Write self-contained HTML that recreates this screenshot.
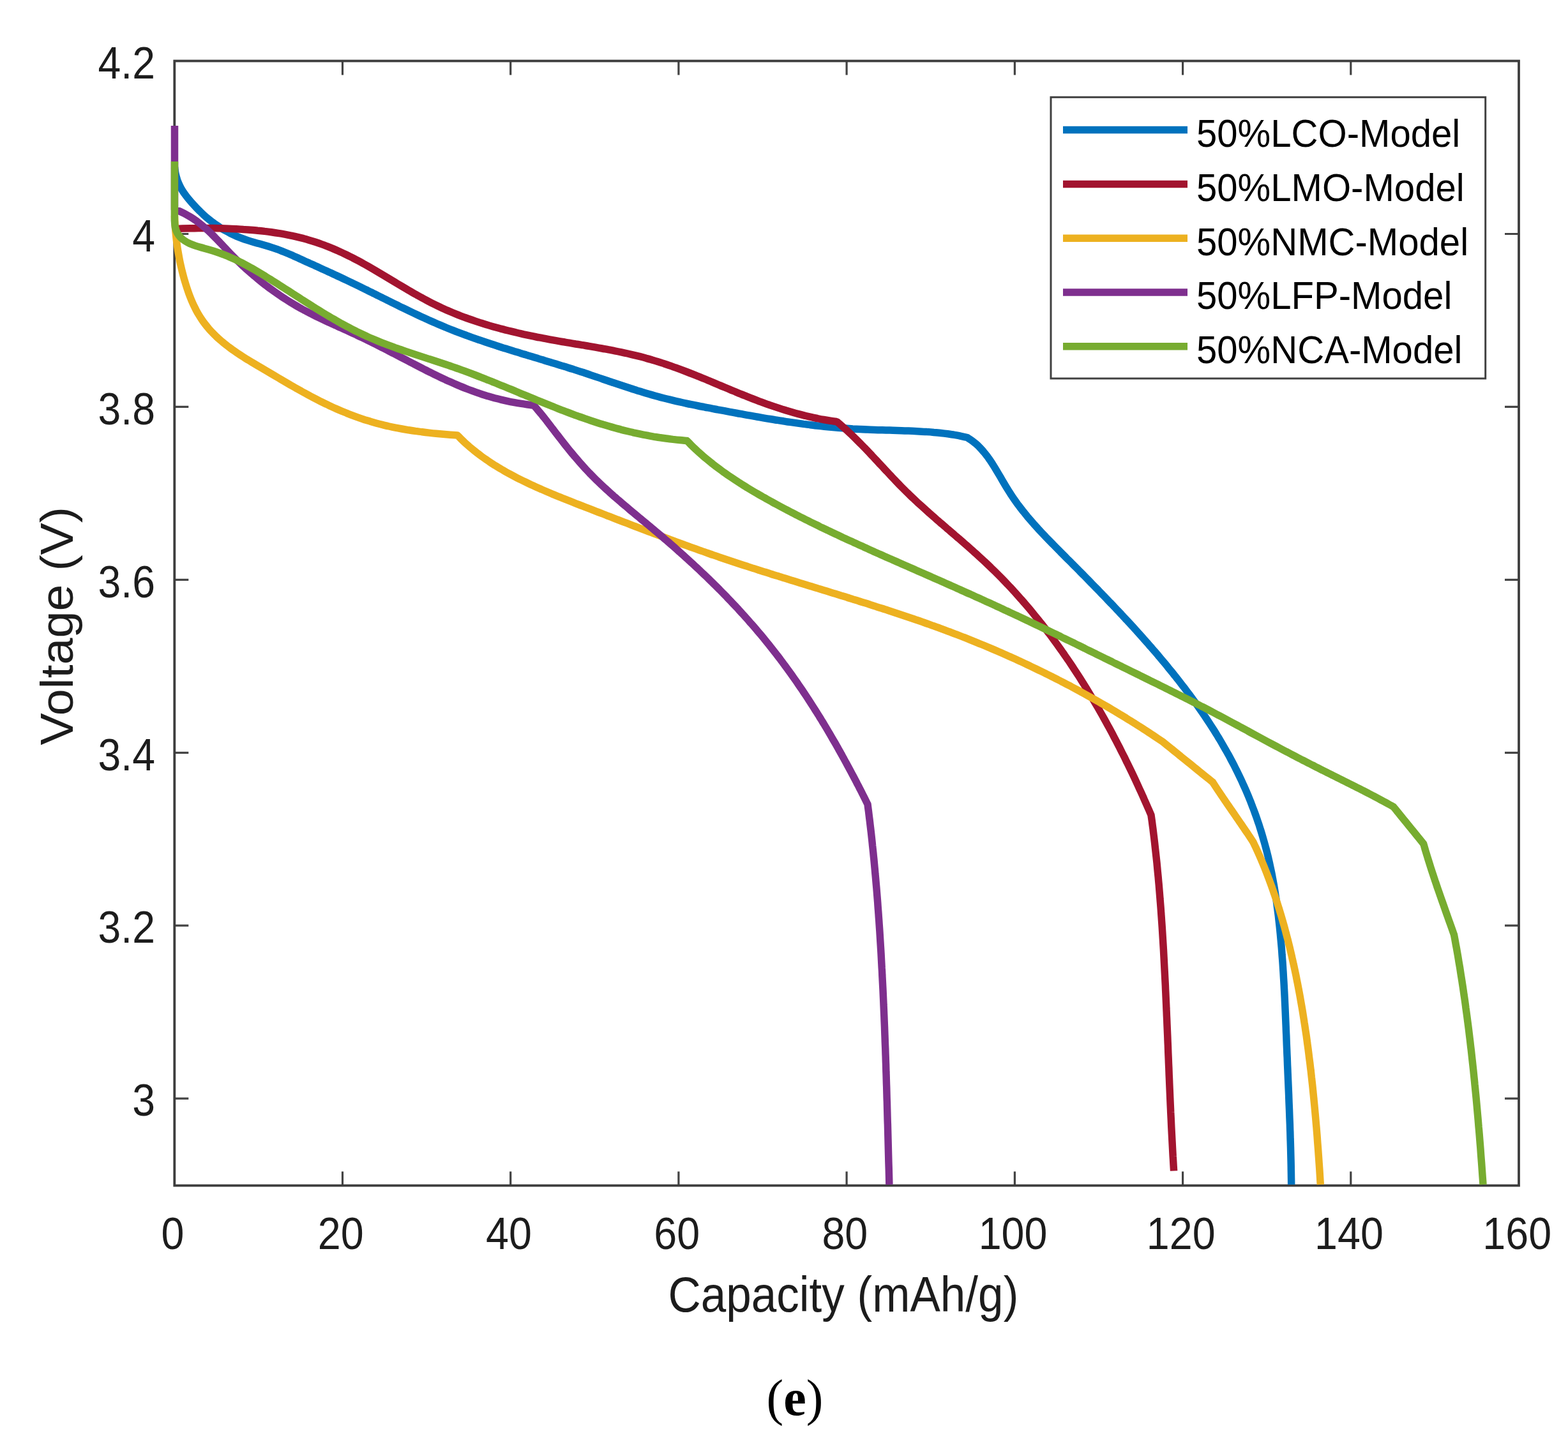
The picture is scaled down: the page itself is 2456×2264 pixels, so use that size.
<!DOCTYPE html>
<html><head><meta charset="utf-8"><style>
html,body{margin:0;padding:0;background:#fff;}
body{width:2456px;height:2264px;overflow:hidden;}
svg{display:block;filter:blur(0.5px);}
text{font-family:"Liberation Sans",Arial,Helvetica,sans-serif;}
</style></head><body>
<svg width="2456" height="2264" viewBox="0 0 2456 2264">
<rect width="2456" height="2264" fill="#fff"/>
<defs><clipPath id="pa"><rect x="273.3" y="95.5" width="2105.7" height="1762.0"/></clipPath></defs>
<g fill="none" stroke="#434343" stroke-width="3.2">
<path d="M536.5 1857.5V1835.5 M536.5 95.5V117.5 M799.7 1857.5V1835.5 M799.7 95.5V117.5 M1062.9 1857.5V1835.5 M1062.9 95.5V117.5 M1326.1 1857.5V1835.5 M1326.1 95.5V117.5 M1589.4 1857.5V1835.5 M1589.4 95.5V117.5 M1852.6 1857.5V1835.5 M1852.6 95.5V117.5 M2115.8 1857.5V1835.5 M2115.8 95.5V117.5 M273.3 1721.2H295.3 M2379.0 1721.2H2357.0 M273.3 1450.2H295.3 M2379.0 1450.2H2357.0 M273.3 1179.3H295.3 M2379.0 1179.3H2357.0 M273.3 908.4H295.3 M2379.0 908.4H2357.0 M273.3 637.4H295.3 M2379.0 637.4H2357.0 M273.3 366.5H295.3 M2379.0 366.5H2357.0 "/>
</g>
<rect x="273.3" y="95.5" width="2105.7" height="1762.0" fill="none" stroke="#3d3d3d" stroke-width="3.8"/>
<g fill="none" stroke-width="11.5" stroke-linejoin="round" stroke-linecap="butt">
<path d="M273.5 262.0 C273.8 263.7 274.4 269.1 275.1 272.5 C275.8 275.8 276.7 278.9 277.7 281.9 C278.8 284.9 280.0 287.7 281.3 290.4 C282.6 293.2 284.0 295.7 285.5 298.2 C287.0 300.7 288.7 303.1 290.4 305.4 C292.1 307.8 293.9 310.0 295.7 312.2 C297.5 314.4 299.4 316.6 301.3 318.7 C303.2 320.8 305.1 322.9 307.1 325.0 C309.0 327.0 311.0 329.0 313.1 331.0 C315.1 333.0 317.2 335.0 319.3 336.9 C321.4 338.8 323.5 340.7 325.7 342.5 C327.9 344.3 330.2 346.1 332.5 347.8 C334.7 349.6 337.1 351.3 339.5 352.9 C341.8 354.5 344.3 356.1 346.7 357.7 C349.2 359.2 351.8 360.7 354.3 362.1 C356.9 363.6 359.6 364.9 362.3 366.3 C365.0 367.6 367.7 368.9 370.5 370.1 C373.4 371.3 376.2 372.4 379.2 373.5 C382.1 374.6 385.1 375.6 388.2 376.6 C391.2 377.6 394.3 378.5 397.4 379.4 C400.5 380.3 403.7 381.2 406.8 382.0 C410.0 382.9 413.1 383.8 416.2 384.7 C419.3 385.6 422.4 386.6 425.4 387.6 C428.5 388.6 431.4 389.6 434.4 390.7 C437.3 391.7 440.2 392.9 443.1 394.0 C446.0 395.2 448.8 396.3 451.7 397.5 C454.5 398.7 457.3 400.0 460.1 401.2 C462.9 402.4 465.6 403.7 468.4 404.9 C471.2 406.2 473.9 407.4 476.7 408.7 C479.5 409.9 482.2 411.2 485.0 412.5 C487.8 413.7 490.5 415.0 493.3 416.2 C496.1 417.5 498.8 418.7 501.6 420.0 C504.4 421.2 507.1 422.5 509.9 423.8 C512.7 425.0 515.4 426.3 518.2 427.5 C520.9 428.8 523.7 430.1 526.4 431.4 C529.2 432.6 531.9 433.9 534.7 435.2 C537.4 436.5 540.1 437.8 542.9 439.1 C545.6 440.4 548.3 441.7 551.0 443.0 C553.7 444.3 556.4 445.6 559.1 446.9 C561.8 448.2 564.5 449.5 567.2 450.9 C569.9 452.2 572.6 453.5 575.3 454.8 C578.0 456.2 580.7 457.5 583.4 458.8 C586.1 460.2 588.8 461.5 591.4 462.9 C594.1 464.2 596.8 465.5 599.5 466.9 C602.2 468.2 604.9 469.5 607.6 470.9 C610.3 472.2 612.9 473.5 615.6 474.9 C618.3 476.2 621.0 477.5 623.7 478.8 C626.4 480.2 629.1 481.5 631.8 482.8 C634.5 484.1 637.2 485.4 640.0 486.7 C642.7 488.0 645.4 489.3 648.1 490.6 C650.9 491.9 653.6 493.2 656.3 494.5 C659.1 495.8 661.8 497.0 664.6 498.3 C667.3 499.6 670.1 500.8 672.9 502.1 C675.7 503.3 678.5 504.5 681.3 505.8 C684.1 507.0 686.9 508.2 689.7 509.4 C692.5 510.6 695.3 511.8 698.2 513.0 C701.0 514.1 703.9 515.3 706.8 516.5 C709.6 517.6 712.5 518.7 715.4 519.9 C718.3 521.0 721.2 522.1 724.2 523.2 C727.1 524.3 730.0 525.4 733.0 526.4 C735.9 527.5 738.9 528.6 741.9 529.6 C744.8 530.7 747.8 531.7 750.8 532.7 C753.8 533.8 756.8 534.8 759.8 535.8 C762.8 536.8 765.9 537.8 768.9 538.8 C771.9 539.8 775.0 540.8 778.0 541.7 C781.0 542.7 784.1 543.7 787.1 544.7 C790.2 545.6 793.3 546.6 796.3 547.5 C799.4 548.5 802.5 549.4 805.5 550.4 C808.6 551.3 811.7 552.3 814.8 553.2 C817.9 554.2 821.0 555.1 824.0 556.0 C827.1 557.0 830.2 557.9 833.3 558.8 C836.4 559.8 839.5 560.7 842.6 561.6 C845.7 562.6 848.8 563.5 851.8 564.4 C854.9 565.4 858.0 566.3 861.1 567.2 C864.2 568.2 867.3 569.1 870.4 570.0 C873.4 571.0 876.5 571.9 879.6 572.9 C882.7 573.8 885.7 574.8 888.8 575.7 C891.8 576.7 894.9 577.7 898.0 578.6 C901.0 579.6 904.0 580.6 907.1 581.6 C910.1 582.6 913.2 583.5 916.2 584.5 C919.2 585.5 922.2 586.5 925.2 587.6 C928.2 588.6 931.2 589.6 934.2 590.6 C937.3 591.6 940.3 592.6 943.3 593.7 C946.3 594.7 949.3 595.7 952.3 596.7 C955.3 597.7 958.3 598.8 961.3 599.8 C964.3 600.8 967.3 601.8 970.3 602.8 C973.3 603.8 976.3 604.8 979.4 605.8 C982.4 606.8 985.4 607.8 988.5 608.8 C991.5 609.8 994.6 610.7 997.6 611.7 C1000.7 612.6 1003.8 613.6 1006.8 614.5 C1009.9 615.5 1013.0 616.4 1016.1 617.3 C1019.2 618.2 1022.4 619.1 1025.5 620.0 C1028.7 620.9 1031.8 621.7 1035.0 622.6 C1038.2 623.4 1041.4 624.2 1044.6 625.0 C1047.8 625.8 1051.1 626.6 1054.3 627.4 C1057.6 628.2 1060.8 628.9 1064.1 629.7 C1067.4 630.4 1070.7 631.1 1074.0 631.8 C1077.3 632.6 1080.6 633.3 1083.9 633.9 C1087.3 634.6 1090.6 635.3 1094.0 636.0 C1097.3 636.7 1100.7 637.3 1104.0 638.0 C1107.4 638.6 1110.8 639.3 1114.2 639.9 C1117.5 640.6 1120.9 641.2 1124.3 641.9 C1127.7 642.5 1131.1 643.1 1134.5 643.7 C1137.9 644.4 1141.3 645.0 1144.6 645.6 C1148.0 646.3 1151.4 646.9 1154.8 647.5 C1158.2 648.1 1161.6 648.8 1165.0 649.4 C1168.4 650.0 1171.9 650.6 1175.3 651.2 C1178.7 651.8 1182.1 652.4 1185.5 653.0 C1188.9 653.6 1192.4 654.2 1195.8 654.8 C1199.2 655.4 1202.7 656.0 1206.1 656.5 C1209.6 657.1 1213.1 657.7 1216.5 658.2 C1220.0 658.8 1223.5 659.3 1227.0 659.8 C1230.4 660.4 1233.9 660.9 1237.4 661.4 C1241.0 661.9 1244.5 662.4 1248.0 662.9 C1251.5 663.4 1255.1 663.9 1258.6 664.4 C1262.2 664.8 1265.8 665.3 1269.3 665.7 C1272.9 666.2 1276.5 666.6 1280.1 667.0 C1283.7 667.4 1287.4 667.8 1291.0 668.2 C1294.7 668.6 1298.3 668.9 1302.0 669.3 C1305.7 669.6 1309.4 669.9 1313.1 670.2 C1316.8 670.5 1320.5 670.8 1324.3 671.1 C1328.0 671.4 1331.8 671.6 1335.6 671.9 C1339.4 672.1 1343.2 672.3 1347.0 672.5 C1350.9 672.7 1354.7 672.9 1358.6 673.0 C1362.4 673.2 1366.3 673.3 1370.2 673.4 C1374.1 673.6 1378.0 673.7 1381.9 673.8 C1385.8 673.9 1389.7 674.0 1393.6 674.1 C1397.6 674.3 1401.5 674.4 1405.4 674.5 C1409.3 674.6 1413.2 674.7 1417.0 674.9 C1420.9 675.0 1424.8 675.2 1428.7 675.3 C1432.5 675.5 1436.3 675.7 1440.2 675.9 C1444.0 676.1 1447.8 676.3 1451.5 676.6 C1455.3 676.8 1459.0 677.1 1462.7 677.5 C1466.4 677.8 1470.1 678.1 1473.7 678.5 C1477.3 678.9 1480.9 679.4 1484.5 679.8 C1488.0 680.3 1491.5 680.8 1495.0 681.4 C1498.4 682.0 1501.8 682.6 1505.1 683.3 C1508.5 684.0 1513.4 685.1 1515.0 685.5 C1516.2 686.3 1520.0 688.6 1522.3 690.3 C1524.6 692.0 1526.8 693.8 1529.0 695.7 C1531.1 697.5 1533.2 699.5 1535.1 701.6 C1537.1 703.6 1539.0 705.8 1540.8 708.0 C1542.7 710.1 1544.4 712.4 1546.2 714.7 C1547.9 717.0 1549.5 719.4 1551.2 721.8 C1552.8 724.2 1554.4 726.6 1555.9 729.1 C1557.5 731.5 1559.0 734.0 1560.5 736.6 C1562.0 739.1 1563.5 741.6 1565.0 744.1 C1566.5 746.7 1568.0 749.2 1569.5 751.8 C1571.0 754.3 1572.4 756.8 1573.9 759.4 C1575.4 761.9 1576.9 764.4 1578.5 766.9 C1580.0 769.4 1581.6 771.8 1583.2 774.3 C1584.8 776.7 1586.4 779.1 1588.0 781.5 C1589.7 783.9 1591.4 786.2 1593.0 788.6 C1594.7 790.9 1596.5 793.2 1598.2 795.5 C1600.0 797.7 1601.7 800.0 1603.5 802.2 C1605.3 804.5 1607.1 806.7 1608.9 808.9 C1610.8 811.1 1612.6 813.3 1614.5 815.4 C1616.3 817.6 1618.2 819.7 1620.1 821.9 C1622.0 824.0 1623.9 826.1 1625.8 828.2 C1627.8 830.3 1629.7 832.4 1631.6 834.5 C1633.6 836.5 1635.6 838.6 1637.5 840.7 C1639.5 842.7 1641.5 844.8 1643.4 846.8 C1645.4 848.9 1647.4 850.9 1649.4 852.9 C1651.4 855.0 1653.4 857.0 1655.4 859.0 C1657.4 861.0 1659.4 863.1 1661.4 865.1 C1663.4 867.1 1665.4 869.1 1667.4 871.1 C1669.4 873.1 1671.4 875.2 1673.4 877.2 C1675.5 879.2 1677.5 881.2 1679.5 883.2 C1681.5 885.3 1683.5 887.3 1685.5 889.3 C1687.5 891.3 1689.5 893.3 1691.5 895.4 C1693.5 897.4 1695.5 899.4 1697.5 901.4 C1699.5 903.5 1701.5 905.5 1703.5 907.5 C1705.5 909.6 1707.4 911.6 1709.4 913.6 C1711.4 915.7 1713.4 917.7 1715.4 919.7 C1717.4 921.8 1719.4 923.8 1721.4 925.9 C1723.3 927.9 1725.3 929.9 1727.3 932.0 C1729.3 934.0 1731.3 936.1 1733.2 938.1 C1735.2 940.2 1737.2 942.2 1739.1 944.3 C1741.1 946.4 1743.1 948.4 1745.0 950.5 C1747.0 952.5 1748.9 954.6 1750.9 956.7 C1752.8 958.8 1754.8 960.8 1756.7 962.9 C1758.7 965.0 1760.6 967.1 1762.6 969.2 C1764.5 971.2 1766.4 973.3 1768.4 975.4 C1770.3 977.5 1772.2 979.6 1774.2 981.7 C1776.1 983.8 1778.0 985.9 1779.9 988.0 C1781.8 990.2 1783.7 992.3 1785.6 994.4 C1787.5 996.5 1789.4 998.6 1791.3 1000.8 C1793.2 1002.9 1795.1 1005.0 1797.0 1007.2 C1798.9 1009.3 1800.7 1011.5 1802.6 1013.6 C1804.5 1015.8 1806.4 1017.9 1808.2 1020.1 C1810.1 1022.3 1811.9 1024.4 1813.8 1026.6 C1815.6 1028.8 1817.5 1031.0 1819.3 1033.2 C1821.1 1035.3 1823.0 1037.5 1824.8 1039.7 C1826.6 1041.9 1828.4 1044.1 1830.2 1046.4 C1832.1 1048.6 1833.9 1050.8 1835.7 1053.0 C1837.5 1055.2 1839.2 1057.5 1841.0 1059.7 C1842.8 1062.0 1844.6 1064.2 1846.4 1066.5 C1848.1 1068.7 1849.9 1071.0 1851.6 1073.3 C1853.4 1075.5 1855.1 1077.8 1856.9 1080.1 C1858.6 1082.4 1860.3 1084.7 1862.1 1087.0 C1863.8 1089.3 1865.5 1091.6 1867.2 1093.9 C1868.9 1096.3 1870.6 1098.6 1872.3 1100.9 C1874.0 1103.3 1875.6 1105.6 1877.3 1108.0 C1879.0 1110.3 1880.6 1112.7 1882.3 1115.1 C1883.9 1117.5 1885.5 1119.9 1887.2 1122.3 C1888.8 1124.7 1890.4 1127.1 1892.0 1129.5 C1893.6 1131.9 1895.2 1134.4 1896.8 1136.8 C1898.3 1139.2 1899.9 1141.7 1901.5 1144.2 C1903.0 1146.6 1904.6 1149.1 1906.1 1151.6 C1907.6 1154.1 1909.2 1156.6 1910.7 1159.1 C1912.2 1161.6 1913.7 1164.2 1915.1 1166.7 C1916.6 1169.3 1918.1 1171.8 1919.5 1174.4 C1921.0 1177.0 1922.4 1179.5 1923.9 1182.1 C1925.3 1184.7 1926.7 1187.3 1928.1 1190.0 C1929.5 1192.6 1930.9 1195.2 1932.3 1197.9 C1933.6 1200.5 1935.0 1203.2 1936.3 1205.9 C1937.7 1208.6 1939.0 1211.3 1940.3 1214.0 C1941.6 1216.7 1942.9 1219.4 1944.2 1222.2 C1945.5 1224.9 1946.7 1227.7 1948.0 1230.5 C1949.2 1233.2 1950.5 1236.0 1951.7 1238.8 C1952.9 1241.6 1954.1 1244.5 1955.3 1247.3 C1956.5 1250.2 1957.6 1253.0 1958.8 1255.9 C1959.9 1258.8 1961.0 1261.7 1962.1 1264.6 C1963.3 1267.5 1964.4 1270.4 1965.4 1273.4 C1966.5 1276.3 1967.6 1279.3 1968.6 1282.3 C1969.6 1285.3 1970.7 1288.3 1971.7 1291.3 C1972.7 1294.3 1973.6 1297.4 1974.6 1300.4 C1975.6 1303.5 1976.5 1306.6 1977.4 1309.7 C1978.3 1312.8 1979.2 1315.9 1980.1 1319.0 C1981.0 1322.2 1981.9 1325.4 1982.7 1328.5 C1983.6 1331.7 1984.4 1334.9 1985.2 1338.1 C1986.0 1341.4 1986.8 1344.6 1987.5 1347.9 C1988.3 1351.2 1989.0 1354.4 1989.7 1357.8 C1990.4 1361.1 1991.1 1364.4 1991.8 1367.7 C1992.5 1371.1 1993.1 1374.5 1993.7 1377.9 C1994.4 1381.3 1995.0 1384.7 1995.6 1388.1 C1996.2 1391.6 1996.7 1395.0 1997.3 1398.5 C1997.8 1402.0 1998.3 1405.5 1998.9 1409.0 C1999.4 1412.5 1999.9 1416.0 2000.3 1419.6 C2000.8 1423.1 2001.3 1426.7 2001.7 1430.3 C2002.2 1433.8 2002.6 1437.4 2003.0 1441.1 C2003.4 1444.7 2003.8 1448.3 2004.2 1451.9 C2004.6 1455.6 2004.9 1459.2 2005.3 1462.9 C2005.6 1466.6 2006.0 1470.3 2006.3 1474.0 C2006.6 1477.7 2007.0 1481.4 2007.3 1485.1 C2007.6 1488.8 2007.9 1492.5 2008.1 1496.3 C2008.4 1500.0 2008.7 1503.8 2009.0 1507.5 C2009.2 1511.3 2009.5 1515.1 2009.7 1518.9 C2010.0 1522.6 2010.2 1526.4 2010.4 1530.2 C2010.6 1534.0 2010.9 1537.8 2011.1 1541.7 C2011.3 1545.5 2011.5 1549.3 2011.7 1553.1 C2011.9 1556.9 2012.1 1560.8 2012.3 1564.6 C2012.4 1568.5 2012.6 1572.3 2012.8 1576.1 C2013.0 1580.0 2013.1 1583.8 2013.3 1587.7 C2013.5 1591.6 2013.6 1595.4 2013.8 1599.3 C2014.0 1603.1 2014.1 1607.0 2014.3 1610.9 C2014.4 1614.7 2014.6 1618.6 2014.8 1622.5 C2014.9 1626.3 2015.1 1630.2 2015.2 1634.1 C2015.4 1638.0 2015.5 1641.8 2015.7 1645.7 C2015.8 1649.6 2016.0 1653.4 2016.2 1657.3 C2016.3 1661.2 2016.5 1665.0 2016.6 1668.9 C2016.8 1672.8 2017.0 1676.6 2017.1 1680.5 C2017.3 1684.3 2017.4 1688.2 2017.6 1692.1 C2017.8 1695.9 2017.9 1699.8 2018.1 1703.7 C2018.3 1707.5 2018.4 1711.4 2018.6 1715.2 C2018.7 1719.1 2018.9 1723.0 2019.0 1726.9 C2019.2 1730.7 2019.3 1734.6 2019.5 1738.5 C2019.6 1742.3 2019.8 1746.2 2019.9 1750.1 C2020.1 1754.0 2020.2 1757.9 2020.4 1761.7 C2020.5 1765.6 2020.6 1769.5 2020.8 1773.4 C2020.9 1777.3 2021.0 1781.2 2021.1 1785.1 C2021.3 1789.0 2021.4 1792.9 2021.5 1796.8 C2021.6 1800.8 2021.7 1804.7 2021.8 1808.6 C2021.9 1812.5 2022.0 1816.4 2022.1 1820.4 C2022.2 1824.3 2022.3 1828.3 2022.3 1832.2 C2022.4 1836.2 2022.5 1840.1 2022.5 1844.1 C2022.6 1848.0 2022.7 1854.0 2022.7 1856.0" stroke="#0072BD"/>
<path d="M273.5 358.5 C275.6 358.4 281.8 358.2 286.0 358.1 C290.1 358.0 294.2 357.9 298.3 357.8 C302.4 357.7 306.5 357.7 310.6 357.6 C314.6 357.6 318.7 357.6 322.7 357.6 C326.7 357.6 330.7 357.6 334.7 357.6 C338.7 357.7 342.6 357.8 346.6 357.8 C350.5 357.9 354.4 358.1 358.3 358.2 C362.2 358.3 366.0 358.5 369.9 358.7 C373.7 358.9 377.5 359.1 381.3 359.4 C385.1 359.6 388.8 359.9 392.5 360.2 C396.2 360.5 399.9 360.8 403.6 361.2 C407.3 361.5 410.9 361.9 414.5 362.4 C418.1 362.8 421.6 363.2 425.2 363.7 C428.7 364.2 432.2 364.7 435.7 365.3 C439.1 365.9 442.6 366.5 446.0 367.1 C449.4 367.7 452.7 368.4 456.1 369.1 C459.4 369.8 462.7 370.5 465.9 371.3 C469.2 372.1 472.4 372.9 475.5 373.7 C478.7 374.6 481.9 375.5 484.9 376.4 C488.0 377.3 491.1 378.3 494.1 379.3 C497.2 380.3 500.1 381.3 503.1 382.4 C506.1 383.4 509.0 384.5 511.9 385.7 C514.8 386.8 517.6 388.0 520.5 389.1 C523.3 390.3 526.1 391.5 528.9 392.8 C531.7 394.0 534.4 395.3 537.2 396.6 C539.9 397.9 542.6 399.2 545.3 400.5 C548.0 401.8 550.7 403.2 553.3 404.5 C556.0 405.9 558.6 407.3 561.3 408.7 C563.9 410.1 566.5 411.5 569.1 413.0 C571.7 414.4 574.2 415.8 576.8 417.3 C579.4 418.8 581.9 420.2 584.5 421.7 C587.0 423.2 589.6 424.7 592.1 426.2 C594.6 427.7 597.1 429.2 599.7 430.7 C602.2 432.2 604.7 433.7 607.2 435.2 C609.7 436.7 612.2 438.2 614.7 439.7 C617.2 441.2 619.8 442.8 622.3 444.3 C624.8 445.8 627.3 447.3 629.8 448.8 C632.3 450.3 634.9 451.8 637.4 453.3 C639.9 454.8 642.5 456.2 645.0 457.7 C647.6 459.2 650.1 460.6 652.7 462.1 C655.3 463.5 657.9 465.0 660.5 466.4 C663.1 467.8 665.7 469.2 668.3 470.6 C670.9 472.0 673.6 473.4 676.3 474.8 C678.9 476.1 681.6 477.5 684.3 478.8 C687.0 480.1 689.7 481.4 692.5 482.7 C695.2 483.9 698.0 485.2 700.8 486.4 C703.6 487.6 706.4 488.8 709.3 490.0 C712.1 491.2 715.0 492.4 717.9 493.5 C720.8 494.6 723.7 495.7 726.6 496.8 C729.6 497.9 732.5 499.0 735.5 500.0 C738.5 501.1 741.5 502.1 744.5 503.1 C747.5 504.1 750.5 505.1 753.6 506.1 C756.6 507.0 759.7 508.0 762.8 508.9 C765.9 509.9 769.0 510.8 772.1 511.7 C775.3 512.6 778.4 513.4 781.6 514.3 C784.7 515.1 787.9 516.0 791.1 516.8 C794.3 517.6 797.6 518.4 800.8 519.2 C804.0 520.0 807.3 520.8 810.5 521.5 C813.8 522.3 817.1 523.0 820.4 523.8 C823.7 524.5 827.0 525.2 830.3 525.9 C833.6 526.6 837.0 527.3 840.3 528.0 C843.7 528.6 847.0 529.3 850.4 529.9 C853.8 530.6 857.2 531.2 860.6 531.8 C864.0 532.5 867.4 533.1 870.8 533.7 C874.2 534.3 877.7 534.9 881.1 535.5 C884.5 536.1 888.0 536.6 891.4 537.2 C894.9 537.8 898.3 538.4 901.8 539.0 C905.2 539.5 908.6 540.1 912.1 540.7 C915.5 541.3 919.0 541.8 922.4 542.4 C925.9 543.0 929.3 543.6 932.7 544.2 C936.1 544.8 939.6 545.4 943.0 546.0 C946.4 546.6 949.8 547.3 953.2 547.9 C956.5 548.5 959.9 549.2 963.3 549.9 C966.6 550.5 970.0 551.2 973.3 551.9 C976.6 552.6 979.9 553.3 983.2 554.0 C986.5 554.8 989.8 555.5 993.0 556.3 C996.3 557.1 999.5 557.9 1002.7 558.7 C1005.9 559.5 1009.1 560.4 1012.2 561.3 C1015.4 562.1 1018.5 563.0 1021.6 564.0 C1024.7 564.9 1027.8 565.8 1030.8 566.8 C1033.9 567.7 1036.9 568.7 1040.0 569.7 C1043.0 570.7 1046.0 571.7 1049.0 572.8 C1052.0 573.8 1054.9 574.9 1057.9 575.9 C1060.9 577.0 1063.8 578.1 1066.7 579.2 C1069.7 580.3 1072.6 581.4 1075.5 582.5 C1078.4 583.6 1081.3 584.7 1084.2 585.9 C1087.0 587.0 1089.9 588.2 1092.8 589.3 C1095.6 590.5 1098.5 591.7 1101.4 592.8 C1104.2 594.0 1107.1 595.2 1109.9 596.3 C1112.8 597.5 1115.6 598.7 1118.4 599.9 C1121.3 601.1 1124.1 602.3 1126.9 603.5 C1129.8 604.6 1132.6 605.8 1135.4 607.0 C1138.3 608.2 1141.1 609.4 1144.0 610.6 C1146.8 611.8 1149.6 612.9 1152.5 614.1 C1155.3 615.3 1158.2 616.5 1161.1 617.6 C1163.9 618.8 1166.8 619.9 1169.7 621.1 C1172.5 622.2 1175.4 623.4 1178.3 624.5 C1181.2 625.6 1184.1 626.7 1187.0 627.8 C1190.0 629.0 1192.9 630.0 1195.8 631.1 C1198.8 632.2 1201.7 633.3 1204.7 634.3 C1207.7 635.4 1210.7 636.4 1213.7 637.4 C1216.7 638.4 1219.7 639.4 1222.8 640.4 C1225.8 641.4 1228.9 642.3 1232.0 643.3 C1235.0 644.2 1238.1 645.1 1241.3 646.0 C1244.4 646.9 1247.6 647.8 1250.7 648.6 C1253.9 649.5 1257.1 650.3 1260.3 651.1 C1263.6 651.9 1266.8 652.7 1270.1 653.4 C1273.4 654.1 1276.7 654.9 1280.1 655.5 C1283.4 656.2 1286.8 656.9 1290.2 657.5 C1293.6 658.1 1297.0 658.7 1300.5 659.2 C1304.0 659.8 1309.2 660.5 1311.0 660.8 C1312.1 661.7 1315.4 664.5 1317.5 666.3 C1319.7 668.2 1321.8 670.1 1323.9 672.0 C1326.0 673.9 1328.1 675.8 1330.2 677.8 C1332.2 679.7 1334.3 681.7 1336.3 683.6 C1338.4 685.6 1340.4 687.6 1342.4 689.6 C1344.4 691.6 1346.4 693.6 1348.4 695.6 C1350.4 697.7 1352.4 699.7 1354.4 701.7 C1356.3 703.8 1358.3 705.8 1360.3 707.9 C1362.2 710.0 1364.2 712.0 1366.1 714.1 C1368.1 716.2 1370.0 718.2 1371.9 720.3 C1373.9 722.4 1375.8 724.5 1377.7 726.6 C1379.7 728.6 1381.6 730.7 1383.6 732.8 C1385.5 734.9 1387.4 737.0 1389.4 739.0 C1391.3 741.1 1393.2 743.2 1395.2 745.3 C1397.1 747.3 1399.1 749.4 1401.0 751.4 C1403.0 753.5 1405.0 755.5 1406.9 757.6 C1408.9 759.6 1410.9 761.7 1412.9 763.7 C1414.9 765.7 1416.9 767.7 1418.9 769.7 C1420.9 771.7 1423.0 773.7 1425.0 775.7 C1427.0 777.6 1429.1 779.6 1431.2 781.5 C1433.2 783.5 1435.3 785.4 1437.4 787.4 C1439.5 789.3 1441.6 791.2 1443.7 793.1 C1445.8 795.0 1447.9 796.9 1450.0 798.8 C1452.1 800.7 1454.3 802.6 1456.4 804.5 C1458.5 806.4 1460.7 808.3 1462.8 810.1 C1464.9 812.0 1467.1 813.9 1469.2 815.8 C1471.4 817.6 1473.5 819.5 1475.7 821.3 C1477.8 823.2 1480.0 825.1 1482.2 826.9 C1484.3 828.8 1486.5 830.6 1488.6 832.5 C1490.8 834.3 1493.0 836.2 1495.1 838.1 C1497.3 839.9 1499.4 841.8 1501.6 843.6 C1503.7 845.5 1505.9 847.4 1508.0 849.2 C1510.2 851.1 1512.3 853.0 1514.5 854.8 C1516.6 856.7 1518.7 858.6 1520.9 860.5 C1523.0 862.4 1525.1 864.3 1527.2 866.2 C1529.4 868.1 1531.5 870.0 1533.6 871.9 C1535.7 873.8 1537.8 875.7 1539.8 877.6 C1541.9 879.6 1544.0 881.5 1546.1 883.5 C1548.1 885.4 1550.2 887.4 1552.2 889.4 C1554.3 891.3 1556.3 893.3 1558.3 895.3 C1560.3 897.3 1562.3 899.3 1564.3 901.3 C1566.3 903.3 1568.3 905.4 1570.3 907.4 C1572.3 909.4 1574.3 911.5 1576.2 913.5 C1578.2 915.6 1580.1 917.7 1582.1 919.7 C1584.0 921.8 1585.9 923.9 1587.9 926.0 C1589.8 928.1 1591.7 930.2 1593.6 932.3 C1595.5 934.4 1597.4 936.6 1599.2 938.7 C1601.1 940.8 1603.0 943.0 1604.9 945.1 C1606.7 947.3 1608.6 949.5 1610.4 951.6 C1612.3 953.8 1614.1 956.0 1615.9 958.2 C1617.7 960.4 1619.5 962.6 1621.3 964.8 C1623.1 967.0 1624.9 969.2 1626.7 971.4 C1628.5 973.7 1630.3 975.9 1632.1 978.2 C1633.8 980.4 1635.6 982.7 1637.3 984.9 C1639.1 987.2 1640.8 989.5 1642.5 991.8 C1644.3 994.1 1646.0 996.3 1647.7 998.6 C1649.4 1001.0 1651.1 1003.3 1652.8 1005.6 C1654.5 1007.9 1656.2 1010.2 1657.9 1012.6 C1659.6 1014.9 1661.2 1017.3 1662.9 1019.6 C1664.5 1022.0 1666.2 1024.3 1667.8 1026.7 C1669.5 1029.1 1671.1 1031.4 1672.7 1033.8 C1674.4 1036.2 1676.0 1038.6 1677.6 1041.0 C1679.2 1043.4 1680.8 1045.8 1682.4 1048.3 C1684.0 1050.7 1685.6 1053.1 1687.2 1055.6 C1688.7 1058.0 1690.3 1060.4 1691.9 1062.9 C1693.4 1065.3 1695.0 1067.8 1696.5 1070.3 C1698.1 1072.7 1699.6 1075.2 1701.2 1077.7 C1702.7 1080.2 1704.2 1082.7 1705.7 1085.2 C1707.2 1087.7 1708.7 1090.2 1710.2 1092.7 C1711.7 1095.2 1713.2 1097.7 1714.7 1100.3 C1716.2 1102.8 1717.7 1105.3 1719.2 1107.9 C1720.6 1110.4 1722.1 1113.0 1723.5 1115.5 C1725.0 1118.1 1726.4 1120.7 1727.9 1123.2 C1729.3 1125.8 1730.8 1128.4 1732.2 1131.0 C1733.6 1133.6 1735.0 1136.2 1736.5 1138.8 C1737.9 1141.4 1739.3 1144.0 1740.7 1146.6 C1742.1 1149.2 1743.5 1151.8 1744.8 1154.5 C1746.2 1157.1 1747.6 1159.7 1749.0 1162.4 C1750.4 1165.0 1751.7 1167.7 1753.1 1170.3 C1754.4 1173.0 1755.8 1175.6 1757.1 1178.3 C1758.5 1181.0 1759.8 1183.7 1761.2 1186.3 C1762.5 1189.0 1763.8 1191.7 1765.1 1194.4 C1766.5 1197.1 1767.8 1199.8 1769.1 1202.5 C1770.4 1205.2 1771.7 1207.9 1773.0 1210.6 C1774.3 1213.4 1775.6 1216.1 1776.9 1218.8 C1778.2 1221.5 1779.4 1224.3 1780.7 1227.0 C1782.0 1229.8 1783.2 1232.5 1784.5 1235.3 C1785.8 1238.0 1787.0 1240.8 1788.3 1243.5 C1789.5 1246.3 1790.8 1249.1 1792.0 1251.9 C1793.2 1254.6 1794.5 1257.4 1795.7 1260.2 C1796.9 1263.0 1798.1 1265.8 1799.4 1268.6 C1800.6 1271.4 1802.4 1275.6 1803.0 1277.0 C1803.2 1278.8 1804.0 1284.1 1804.5 1287.6 C1804.9 1291.2 1805.4 1294.8 1805.9 1298.3 C1806.3 1301.9 1806.8 1305.5 1807.2 1309.1 C1807.7 1312.7 1808.1 1316.3 1808.5 1319.9 C1808.9 1323.5 1809.3 1327.1 1809.7 1330.8 C1810.1 1334.4 1810.5 1338.0 1810.9 1341.7 C1811.3 1345.3 1811.7 1349.0 1812.1 1352.7 C1812.4 1356.3 1812.8 1360.0 1813.1 1363.7 C1813.5 1367.4 1813.8 1371.1 1814.2 1374.8 C1814.5 1378.5 1814.8 1382.2 1815.2 1385.9 C1815.5 1389.6 1815.8 1393.3 1816.1 1397.0 C1816.4 1400.8 1816.7 1404.5 1817.0 1408.2 C1817.3 1412.0 1817.6 1415.7 1817.9 1419.5 C1818.2 1423.2 1818.5 1427.0 1818.7 1430.7 C1819.0 1434.5 1819.3 1438.3 1819.5 1442.0 C1819.8 1445.8 1820.0 1449.6 1820.3 1453.4 C1820.5 1457.2 1820.8 1461.0 1821.0 1464.8 C1821.2 1468.6 1821.5 1472.4 1821.7 1476.2 C1821.9 1480.0 1822.2 1483.8 1822.4 1487.6 C1822.6 1491.4 1822.8 1495.2 1823.0 1499.1 C1823.2 1502.9 1823.4 1506.7 1823.6 1510.6 C1823.8 1514.4 1824.0 1518.2 1824.2 1522.1 C1824.4 1525.9 1824.6 1529.7 1824.8 1533.6 C1825.0 1537.4 1825.2 1541.3 1825.4 1545.1 C1825.5 1549.0 1825.7 1552.8 1825.9 1556.7 C1826.1 1560.6 1826.2 1564.4 1826.4 1568.3 C1826.6 1572.1 1826.8 1576.0 1826.9 1579.9 C1827.1 1583.7 1827.3 1587.6 1827.4 1591.5 C1827.6 1595.4 1827.8 1599.2 1827.9 1603.1 C1828.1 1607.0 1828.2 1610.8 1828.4 1614.7 C1828.6 1618.6 1828.7 1622.5 1828.9 1626.3 C1829.0 1630.2 1829.2 1634.1 1829.4 1638.0 C1829.5 1641.9 1829.7 1645.7 1829.8 1649.6 C1830.0 1653.5 1830.1 1657.4 1830.3 1661.2 C1830.4 1665.1 1830.6 1669.0 1830.8 1672.9 C1830.9 1676.8 1831.1 1680.6 1831.2 1684.5 C1831.4 1688.4 1831.6 1692.3 1831.7 1696.1 C1831.9 1700.0 1832.0 1703.9 1832.2 1707.7 C1832.4 1711.6 1832.5 1715.5 1832.7 1719.4 C1832.9 1723.2 1833.0 1727.1 1833.2 1730.9 C1833.4 1734.8 1833.6 1738.7 1833.7 1742.5 C1833.9 1746.4 1834.1 1750.2 1834.3 1754.1 C1834.5 1758.0 1834.6 1761.8 1834.8 1765.7 C1835.0 1769.5 1835.2 1773.3 1835.4 1777.2 C1835.6 1781.0 1835.8 1784.9 1836.0 1788.7 C1836.2 1792.5 1836.4 1796.4 1836.6 1800.2 C1836.8 1804.0 1837.0 1807.8 1837.2 1811.6 C1837.5 1815.5 1837.7 1819.3 1837.9 1823.1 C1838.1 1826.9 1838.5 1832.6 1838.6 1834.5" stroke="#A2142F"/>
<path d="M273.5 338.0 C273.6 339.9 273.8 345.8 274.0 349.6 C274.3 353.4 274.5 357.2 274.8 360.9 C275.1 364.6 275.5 368.3 275.9 371.9 C276.3 375.6 276.7 379.2 277.2 382.7 C277.7 386.3 278.2 389.8 278.8 393.2 C279.4 396.7 280.0 400.1 280.6 403.5 C281.2 406.9 281.9 410.3 282.6 413.6 C283.4 416.9 284.1 420.2 284.9 423.5 C285.7 426.7 286.5 429.9 287.4 433.1 C288.2 436.3 289.1 439.4 290.1 442.5 C291.0 445.6 292.0 448.7 293.0 451.7 C294.0 454.7 295.0 457.7 296.1 460.7 C297.2 463.6 298.3 466.5 299.5 469.4 C300.7 472.2 301.9 475.0 303.2 477.8 C304.5 480.5 305.9 483.2 307.2 485.9 C308.6 488.5 310.1 491.1 311.6 493.6 C313.1 496.1 314.7 498.6 316.3 501.0 C317.9 503.4 319.6 505.8 321.4 508.0 C323.2 510.3 325.0 512.5 326.8 514.7 C328.7 516.9 330.6 519.0 332.6 521.0 C334.6 523.1 336.6 525.1 338.7 527.1 C340.7 529.1 342.9 531.0 345.0 532.9 C347.2 534.7 349.4 536.6 351.6 538.4 C353.8 540.2 356.1 541.9 358.4 543.7 C360.7 545.4 363.1 547.1 365.4 548.8 C367.8 550.4 370.2 552.1 372.6 553.7 C375.0 555.3 377.5 556.9 379.9 558.5 C382.4 560.1 384.9 561.6 387.3 563.2 C389.8 564.7 392.4 566.2 394.9 567.8 C397.4 569.3 399.9 570.8 402.4 572.3 C405.0 573.8 407.5 575.3 410.1 576.8 C412.6 578.3 415.1 579.8 417.7 581.3 C420.2 582.8 422.8 584.3 425.3 585.8 C427.8 587.3 430.4 588.8 432.9 590.2 C435.5 591.7 438.0 593.2 440.5 594.7 C443.1 596.2 445.6 597.7 448.2 599.2 C450.7 600.7 453.3 602.2 455.8 603.7 C458.4 605.1 460.9 606.6 463.5 608.1 C466.1 609.5 468.7 611.0 471.3 612.4 C473.8 613.9 476.4 615.3 479.1 616.8 C481.7 618.2 484.3 619.6 486.9 621.0 C489.6 622.4 492.2 623.8 494.9 625.2 C497.5 626.5 500.2 627.9 502.9 629.3 C505.6 630.6 508.3 631.9 511.0 633.2 C513.7 634.6 516.5 635.8 519.2 637.1 C522.0 638.4 524.8 639.7 527.6 640.9 C530.4 642.1 533.2 643.3 536.0 644.5 C538.9 645.7 541.7 646.9 544.6 648.0 C547.5 649.2 550.4 650.3 553.4 651.4 C556.3 652.5 559.3 653.6 562.3 654.6 C565.3 655.7 568.3 656.7 571.3 657.7 C574.4 658.6 577.5 659.6 580.6 660.5 C583.7 661.4 586.8 662.3 590.0 663.2 C593.2 664.1 596.4 664.9 599.6 665.7 C602.9 666.5 606.1 667.3 609.4 668.0 C612.7 668.7 616.1 669.4 619.4 670.1 C622.8 670.8 626.2 671.4 629.6 672.0 C633.0 672.6 636.5 673.2 640.0 673.8 C643.5 674.3 647.0 674.8 650.5 675.4 C654.0 675.9 657.6 676.3 661.2 676.8 C664.8 677.2 668.4 677.7 672.0 678.1 C675.6 678.5 679.3 678.9 682.9 679.2 C686.6 679.6 690.3 679.9 694.0 680.3 C697.7 680.6 701.5 680.9 705.2 681.2 C709.0 681.5 714.6 681.9 716.5 682.0 C717.5 683.0 720.4 686.1 722.4 688.1 C724.5 690.0 726.5 692.0 728.6 693.9 C730.7 695.8 732.8 697.7 734.9 699.6 C737.1 701.4 739.3 703.3 741.5 705.0 C743.7 706.8 745.9 708.6 748.2 710.3 C750.4 712.1 752.7 713.8 755.0 715.5 C757.4 717.2 759.7 718.8 762.1 720.4 C764.5 722.1 766.8 723.7 769.3 725.3 C771.7 726.8 774.1 728.4 776.6 729.9 C779.1 731.5 781.6 733.0 784.1 734.5 C786.6 735.9 789.1 737.4 791.7 738.9 C794.2 740.3 796.8 741.7 799.4 743.1 C802.0 744.5 804.6 745.9 807.3 747.3 C809.9 748.7 812.5 750.0 815.2 751.4 C817.9 752.7 820.6 754.0 823.3 755.3 C826.0 756.6 828.7 757.9 831.4 759.2 C834.1 760.4 836.9 761.7 839.6 762.9 C842.4 764.2 845.1 765.4 847.9 766.6 C850.7 767.9 853.5 769.1 856.3 770.3 C859.1 771.5 861.9 772.7 864.7 773.8 C867.6 775.0 870.4 776.2 873.2 777.3 C876.1 778.5 878.9 779.7 881.8 780.8 C884.6 782.0 887.5 783.1 890.3 784.2 C893.2 785.4 896.1 786.5 898.9 787.6 C901.8 788.8 904.7 789.9 907.6 791.0 C910.5 792.1 913.3 793.3 916.2 794.4 C919.1 795.5 922.0 796.6 924.9 797.7 C927.8 798.8 930.6 800.0 933.5 801.1 C936.4 802.2 939.3 803.3 942.2 804.4 C945.1 805.5 948.0 806.7 950.8 807.8 C953.7 808.9 956.6 810.0 959.5 811.1 C962.4 812.2 965.3 813.4 968.2 814.5 C971.0 815.6 973.9 816.7 976.8 817.8 C979.7 818.9 982.6 820.0 985.5 821.1 C988.4 822.2 991.3 823.4 994.2 824.5 C997.1 825.6 1000.0 826.7 1002.9 827.8 C1005.7 828.9 1008.6 830.0 1011.5 831.1 C1014.4 832.2 1017.4 833.3 1020.3 834.4 C1023.2 835.5 1026.1 836.6 1029.0 837.7 C1031.9 838.8 1034.8 839.9 1037.7 840.9 C1040.6 842.0 1043.5 843.1 1046.4 844.2 C1049.4 845.3 1052.3 846.4 1055.2 847.4 C1058.1 848.5 1061.1 849.6 1064.0 850.7 C1066.9 851.7 1069.9 852.8 1072.8 853.9 C1075.7 854.9 1078.7 856.0 1081.6 857.1 C1084.5 858.1 1087.5 859.2 1090.4 860.2 C1093.4 861.3 1096.3 862.3 1099.3 863.4 C1102.3 864.4 1105.2 865.5 1108.2 866.5 C1111.1 867.5 1114.1 868.6 1117.1 869.6 C1120.1 870.6 1123.0 871.6 1126.0 872.7 C1129.0 873.7 1132.0 874.7 1135.0 875.7 C1138.0 876.7 1141.0 877.7 1144.0 878.7 C1147.0 879.7 1150.0 880.7 1153.0 881.7 C1156.0 882.7 1159.0 883.7 1162.0 884.7 C1165.0 885.7 1168.1 886.7 1171.1 887.6 C1174.1 888.6 1177.1 889.6 1180.2 890.6 C1183.2 891.5 1186.2 892.5 1189.3 893.5 C1192.3 894.4 1195.3 895.4 1198.4 896.3 C1201.4 897.3 1204.5 898.3 1207.5 899.2 C1210.5 900.2 1213.6 901.1 1216.6 902.1 C1219.7 903.0 1222.7 904.0 1225.8 904.9 C1228.9 905.9 1231.9 906.8 1235.0 907.8 C1238.0 908.7 1241.1 909.7 1244.1 910.6 C1247.2 911.5 1250.3 912.5 1253.3 913.4 C1256.4 914.4 1259.4 915.3 1262.5 916.2 C1265.6 917.2 1268.6 918.1 1271.7 919.1 C1274.7 920.0 1277.8 920.9 1280.9 921.9 C1283.9 922.8 1287.0 923.8 1290.1 924.7 C1293.1 925.6 1296.2 926.6 1299.2 927.5 C1302.3 928.5 1305.4 929.4 1308.4 930.3 C1311.5 931.3 1314.5 932.2 1317.6 933.2 C1320.7 934.1 1323.7 935.1 1326.8 936.0 C1329.8 937.0 1332.9 937.9 1335.9 938.9 C1339.0 939.8 1342.0 940.8 1345.1 941.7 C1348.1 942.7 1351.2 943.6 1354.2 944.6 C1357.2 945.5 1360.3 946.5 1363.3 947.5 C1366.4 948.4 1369.4 949.4 1372.4 950.4 C1375.5 951.3 1378.5 952.3 1381.5 953.3 C1384.5 954.3 1387.6 955.2 1390.6 956.2 C1393.6 957.2 1396.6 958.2 1399.6 959.2 C1402.6 960.2 1405.6 961.2 1408.6 962.2 C1411.6 963.2 1414.6 964.2 1417.6 965.2 C1420.6 966.2 1423.6 967.2 1426.6 968.2 C1429.6 969.2 1432.6 970.2 1435.5 971.3 C1438.5 972.3 1441.5 973.3 1444.5 974.4 C1447.4 975.4 1450.4 976.4 1453.3 977.5 C1456.3 978.5 1459.2 979.6 1462.2 980.6 C1465.1 981.7 1468.1 982.8 1471.0 983.8 C1473.9 984.9 1476.8 986.0 1479.8 987.1 C1482.7 988.2 1485.6 989.3 1488.5 990.3 C1491.4 991.4 1494.3 992.5 1497.2 993.7 C1500.1 994.8 1503.0 995.9 1505.8 997.0 C1508.7 998.1 1511.6 999.3 1514.5 1000.4 C1517.3 1001.5 1520.2 1002.7 1523.0 1003.8 C1525.9 1005.0 1528.7 1006.1 1531.6 1007.3 C1534.4 1008.5 1537.2 1009.6 1540.1 1010.8 C1542.9 1012.0 1545.7 1013.2 1548.5 1014.3 C1551.3 1015.5 1554.1 1016.7 1556.9 1017.9 C1559.7 1019.1 1562.5 1020.3 1565.3 1021.5 C1568.1 1022.8 1570.9 1024.0 1573.7 1025.2 C1576.4 1026.4 1579.2 1027.7 1582.0 1028.9 C1584.7 1030.1 1587.5 1031.4 1590.2 1032.6 C1593.0 1033.9 1595.7 1035.2 1598.5 1036.4 C1601.2 1037.7 1603.9 1039.0 1606.7 1040.2 C1609.4 1041.5 1612.1 1042.8 1614.8 1044.1 C1617.5 1045.4 1620.2 1046.7 1622.9 1048.0 C1625.6 1049.3 1628.3 1050.6 1631.0 1051.9 C1633.7 1053.2 1636.4 1054.5 1639.0 1055.9 C1641.7 1057.2 1644.4 1058.5 1647.1 1059.9 C1649.7 1061.2 1652.4 1062.5 1655.0 1063.9 C1657.7 1065.3 1660.3 1066.6 1662.9 1068.0 C1665.6 1069.3 1668.2 1070.7 1670.8 1072.1 C1673.5 1073.5 1676.1 1074.8 1678.7 1076.2 C1681.3 1077.6 1683.9 1079.0 1686.5 1080.4 C1689.1 1081.8 1691.7 1083.2 1694.3 1084.7 C1696.9 1086.1 1699.5 1087.5 1702.0 1088.9 C1704.6 1090.3 1707.2 1091.8 1709.7 1093.2 C1712.3 1094.6 1714.9 1096.1 1717.4 1097.5 C1720.0 1099.0 1722.5 1100.5 1725.0 1101.9 C1727.6 1103.4 1730.1 1104.8 1732.6 1106.3 C1735.2 1107.8 1737.7 1109.3 1740.2 1110.8 C1742.7 1112.3 1745.2 1113.7 1747.7 1115.2 C1750.2 1116.7 1752.7 1118.2 1755.2 1119.8 C1757.7 1121.3 1760.2 1122.8 1762.7 1124.3 C1765.1 1125.8 1767.6 1127.4 1770.1 1128.9 C1772.5 1130.4 1775.0 1132.0 1777.5 1133.5 C1779.9 1135.1 1782.4 1136.6 1784.8 1138.2 C1787.2 1139.7 1789.7 1141.3 1792.1 1142.9 C1794.5 1144.4 1797.0 1146.0 1799.4 1147.6 C1801.8 1149.2 1804.2 1150.8 1806.6 1152.4 C1809.0 1154.0 1811.4 1155.6 1813.8 1157.2 C1816.2 1158.8 1819.8 1161.2 1821.0 1162.0 C1822.2 1163.0 1825.8 1165.8 1828.1 1167.8 C1830.5 1169.7 1832.9 1171.6 1835.3 1173.5 C1837.7 1175.5 1840.0 1177.4 1842.4 1179.3 C1844.8 1181.2 1847.2 1183.2 1849.5 1185.1 C1851.9 1187.0 1854.3 1188.9 1856.7 1190.9 C1859.1 1192.8 1861.4 1194.7 1863.8 1196.6 C1866.2 1198.6 1868.6 1200.5 1871.0 1202.4 C1873.3 1204.3 1875.7 1206.3 1878.1 1208.2 C1880.5 1210.1 1882.8 1212.0 1885.2 1214.0 C1887.6 1215.9 1890.0 1217.8 1892.4 1219.7 C1894.7 1221.7 1898.3 1224.5 1899.5 1225.5 C1900.3 1226.7 1902.7 1230.4 1904.3 1232.8 C1905.9 1235.3 1907.5 1237.7 1909.1 1240.1 C1910.7 1242.5 1912.3 1245.0 1914.0 1247.4 C1915.6 1249.8 1917.2 1252.2 1918.9 1254.6 C1920.5 1257.0 1922.2 1259.4 1923.8 1261.8 C1925.4 1264.2 1927.1 1266.6 1928.7 1268.9 C1930.4 1271.3 1932.0 1273.7 1933.7 1276.1 C1935.3 1278.5 1937.0 1280.9 1938.6 1283.3 C1940.3 1285.7 1941.9 1288.1 1943.6 1290.5 C1945.2 1292.9 1946.8 1295.3 1948.5 1297.7 C1950.1 1300.1 1951.7 1302.5 1953.4 1304.9 C1955.0 1307.3 1956.6 1309.7 1958.2 1312.2 C1959.8 1314.6 1962.2 1318.3 1963.0 1319.5 C1963.6 1320.9 1965.6 1325.0 1966.9 1327.7 C1968.2 1330.5 1969.4 1333.3 1970.7 1336.0 C1971.9 1338.8 1973.2 1341.6 1974.4 1344.5 C1975.6 1347.3 1976.8 1350.1 1978.0 1353.0 C1979.2 1355.8 1980.3 1358.7 1981.5 1361.6 C1982.6 1364.4 1983.8 1367.3 1984.9 1370.3 C1986.0 1373.2 1987.1 1376.1 1988.2 1379.0 C1989.3 1382.0 1990.4 1384.9 1991.5 1387.9 C1992.5 1390.9 1993.6 1393.9 1994.6 1396.9 C1995.6 1399.9 1996.7 1402.9 1997.7 1405.9 C1998.7 1408.9 1999.7 1412.0 2000.7 1415.0 C2001.6 1418.1 2002.6 1421.2 2003.6 1424.3 C2004.5 1427.3 2005.4 1430.4 2006.4 1433.5 C2007.3 1436.7 2008.2 1439.8 2009.1 1442.9 C2010.0 1446.1 2010.9 1449.2 2011.8 1452.4 C2012.6 1455.5 2013.5 1458.7 2014.3 1461.9 C2015.2 1465.1 2016.0 1468.3 2016.9 1471.5 C2017.7 1474.7 2018.5 1478.0 2019.3 1481.2 C2020.1 1484.4 2020.9 1487.7 2021.6 1490.9 C2022.4 1494.2 2023.2 1497.5 2023.9 1500.8 C2024.7 1504.1 2025.4 1507.4 2026.1 1510.7 C2026.9 1514.0 2027.6 1517.3 2028.3 1520.6 C2029.0 1524.0 2029.7 1527.3 2030.4 1530.7 C2031.0 1534.0 2031.7 1537.4 2032.4 1540.8 C2033.0 1544.1 2033.7 1547.5 2034.3 1550.9 C2035.0 1554.3 2035.6 1557.7 2036.2 1561.1 C2036.8 1564.6 2037.4 1568.0 2038.0 1571.4 C2038.6 1574.9 2039.2 1578.3 2039.8 1581.8 C2040.4 1585.2 2040.9 1588.7 2041.5 1592.2 C2042.0 1595.7 2042.6 1599.1 2043.1 1602.6 C2043.7 1606.1 2044.2 1609.7 2044.7 1613.2 C2045.2 1616.7 2045.8 1620.2 2046.3 1623.7 C2046.8 1627.3 2047.3 1630.8 2047.7 1634.4 C2048.2 1637.9 2048.7 1641.5 2049.2 1645.1 C2049.6 1648.6 2050.1 1652.2 2050.5 1655.8 C2051.0 1659.4 2051.4 1663.0 2051.9 1666.6 C2052.3 1670.2 2052.7 1673.8 2053.2 1677.4 C2053.6 1681.0 2054.0 1684.6 2054.4 1688.3 C2054.8 1691.9 2055.2 1695.5 2055.6 1699.2 C2056.0 1702.8 2056.4 1706.5 2056.7 1710.2 C2057.1 1713.8 2057.5 1717.5 2057.8 1721.2 C2058.2 1724.8 2058.5 1728.5 2058.9 1732.2 C2059.2 1735.9 2059.6 1739.6 2059.9 1743.3 C2060.3 1747.0 2060.6 1750.7 2060.9 1754.4 C2061.2 1758.1 2061.5 1761.8 2061.9 1765.6 C2062.2 1769.3 2062.5 1773.0 2062.8 1776.8 C2063.1 1780.5 2063.4 1784.2 2063.6 1788.0 C2063.9 1791.7 2064.2 1795.5 2064.5 1799.3 C2064.8 1803.0 2065.0 1806.8 2065.3 1810.5 C2065.6 1814.3 2065.8 1818.1 2066.1 1821.9 C2066.4 1825.6 2066.6 1829.4 2066.9 1833.2 C2067.1 1837.0 2067.4 1840.8 2067.6 1844.6 C2067.8 1848.4 2068.2 1854.1 2068.3 1856.0" stroke="#EDB120"/>
<path d="M273.5 197.0 C273.5 207.5 273.5 238.2 273.5 260.0 C273.5 281.8 273.5 316.7 273.5 328.0 C274.9 328.6 279.4 330.2 282.2 331.4 C285.0 332.6 287.7 334.0 290.3 335.3 C293.0 336.7 295.5 338.2 298.0 339.7 C300.5 341.2 302.9 342.8 305.3 344.5 C307.7 346.1 310.0 347.9 312.3 349.6 C314.5 351.4 316.7 353.2 318.9 355.1 C321.1 356.9 323.2 358.8 325.3 360.7 C327.4 362.7 329.4 364.6 331.5 366.6 C333.5 368.6 335.5 370.6 337.5 372.7 C339.5 374.7 341.5 376.8 343.4 378.8 C345.4 380.9 347.3 383.0 349.3 385.0 C351.2 387.1 353.2 389.2 355.1 391.3 C357.1 393.3 359.1 395.4 361.0 397.5 C363.0 399.5 365.0 401.5 367.0 403.5 C369.0 405.6 371.1 407.6 373.1 409.6 C375.1 411.5 377.2 413.5 379.3 415.5 C381.3 417.4 383.4 419.3 385.5 421.3 C387.7 423.2 389.8 425.1 391.9 426.9 C394.1 428.8 396.2 430.7 398.4 432.5 C400.6 434.4 402.8 436.2 405.0 438.0 C407.2 439.8 409.5 441.6 411.7 443.4 C414.0 445.2 416.2 446.9 418.5 448.6 C420.8 450.4 423.1 452.1 425.5 453.8 C427.8 455.5 430.1 457.2 432.5 458.8 C434.9 460.5 437.3 462.1 439.7 463.7 C442.1 465.4 444.5 467.0 447.0 468.5 C449.4 470.1 451.9 471.7 454.4 473.2 C456.9 474.7 459.4 476.2 461.9 477.7 C464.4 479.2 467.0 480.7 469.6 482.2 C472.1 483.6 474.7 485.0 477.3 486.5 C480.0 487.9 482.6 489.3 485.2 490.6 C487.9 492.0 490.6 493.3 493.3 494.7 C496.0 496.0 498.7 497.3 501.4 498.6 C504.1 499.9 506.9 501.2 509.6 502.5 C512.4 503.8 515.1 505.0 517.9 506.3 C520.6 507.6 523.4 508.8 526.2 510.1 C528.9 511.3 531.7 512.6 534.5 513.8 C537.3 515.1 540.0 516.3 542.8 517.6 C545.6 518.9 548.3 520.1 551.1 521.4 C553.8 522.7 556.6 523.9 559.3 525.2 C562.1 526.5 564.8 527.8 567.5 529.1 C570.2 530.4 572.9 531.7 575.6 533.1 C578.3 534.4 581.0 535.7 583.7 537.1 C586.4 538.4 589.1 539.7 591.8 541.1 C594.4 542.5 597.1 543.8 599.8 545.2 C602.4 546.5 605.1 547.9 607.7 549.3 C610.4 550.6 613.0 552.0 615.7 553.4 C618.3 554.8 621.0 556.1 623.6 557.5 C626.3 558.9 628.9 560.3 631.6 561.7 C634.2 563.0 636.9 564.4 639.5 565.8 C642.2 567.2 644.8 568.6 647.5 569.9 C650.1 571.3 652.8 572.7 655.4 574.0 C658.1 575.4 660.8 576.8 663.4 578.1 C666.1 579.5 668.8 580.8 671.4 582.2 C674.1 583.5 676.8 584.9 679.5 586.2 C682.2 587.5 684.9 588.8 687.6 590.1 C690.3 591.5 693.1 592.8 695.8 594.0 C698.6 595.3 701.3 596.6 704.1 597.8 C706.9 599.1 709.7 600.3 712.5 601.5 C715.3 602.8 718.1 604.0 721.0 605.1 C723.8 606.3 726.7 607.5 729.6 608.6 C732.4 609.7 735.4 610.9 738.3 611.9 C741.2 613.0 744.2 614.1 747.2 615.1 C750.2 616.2 753.2 617.2 756.2 618.2 C759.3 619.1 762.3 620.1 765.5 621.0 C768.6 621.9 771.7 622.8 774.9 623.7 C778.0 624.5 781.2 625.4 784.5 626.1 C787.7 626.9 791.0 627.7 794.3 628.4 C797.6 629.1 801.0 629.8 804.4 630.4 C807.7 631.1 811.2 631.6 814.6 632.2 C818.1 632.8 821.6 633.3 825.2 633.7 C828.7 634.2 834.2 634.8 836.0 635.0 C836.9 636.1 839.8 639.3 841.6 641.4 C843.5 643.6 845.3 645.8 847.1 648.0 C849.0 650.2 850.7 652.5 852.5 654.7 C854.3 657.0 856.1 659.2 857.8 661.5 C859.6 663.8 861.3 666.1 863.1 668.3 C864.8 670.6 866.6 672.9 868.3 675.2 C870.1 677.5 871.8 679.8 873.6 682.0 C875.3 684.3 877.1 686.6 878.8 688.8 C880.6 691.1 882.4 693.4 884.1 695.6 C885.9 697.9 887.7 700.1 889.5 702.3 C891.3 704.6 893.1 706.8 894.9 709.0 C896.7 711.2 898.6 713.4 900.4 715.6 C902.3 717.8 904.1 719.9 906.0 722.1 C907.9 724.3 909.7 726.4 911.7 728.5 C913.6 730.7 915.5 732.8 917.4 734.9 C919.3 736.9 921.3 739.0 923.3 741.1 C925.3 743.1 927.2 745.2 929.3 747.2 C931.3 749.2 933.3 751.2 935.3 753.2 C937.4 755.2 939.4 757.1 941.5 759.1 C943.6 761.1 945.7 763.0 947.8 764.9 C949.8 766.9 952.0 768.8 954.1 770.7 C956.2 772.6 958.3 774.5 960.5 776.4 C962.6 778.3 964.8 780.1 966.9 782.0 C969.1 783.9 971.3 785.7 973.4 787.6 C975.6 789.5 977.8 791.3 980.0 793.1 C982.1 795.0 984.3 796.8 986.5 798.7 C988.7 800.5 990.9 802.3 993.1 804.1 C995.3 806.0 997.5 807.8 999.7 809.6 C1001.9 811.4 1004.1 813.3 1006.3 815.1 C1008.6 816.9 1010.8 818.7 1013.0 820.6 C1015.2 822.4 1017.4 824.2 1019.6 826.1 C1021.8 827.9 1023.9 829.7 1026.1 831.6 C1028.3 833.4 1030.5 835.2 1032.7 837.1 C1034.9 838.9 1037.0 840.8 1039.2 842.7 C1041.4 844.5 1043.5 846.4 1045.7 848.3 C1047.9 850.1 1050.0 852.0 1052.2 853.9 C1054.3 855.7 1056.5 857.6 1058.6 859.5 C1060.7 861.4 1062.9 863.3 1065.0 865.2 C1067.1 867.1 1069.2 869.0 1071.4 870.9 C1073.5 872.8 1075.6 874.7 1077.7 876.7 C1079.8 878.6 1081.9 880.5 1084.0 882.4 C1086.1 884.4 1088.2 886.3 1090.3 888.3 C1092.4 890.2 1094.4 892.2 1096.5 894.1 C1098.6 896.1 1100.6 898.0 1102.7 900.0 C1104.8 902.0 1106.8 903.9 1108.9 905.9 C1110.9 907.9 1112.9 909.9 1115.0 911.9 C1117.0 913.9 1119.0 915.9 1121.1 917.9 C1123.1 919.9 1125.1 921.9 1127.1 923.9 C1129.1 926.0 1131.1 928.0 1133.1 930.0 C1135.1 932.1 1137.1 934.1 1139.1 936.2 C1141.0 938.2 1143.0 940.3 1145.0 942.3 C1146.9 944.4 1148.9 946.5 1150.8 948.5 C1152.8 950.6 1154.7 952.7 1156.7 954.8 C1158.6 956.9 1160.5 959.0 1162.4 961.1 C1164.4 963.2 1166.3 965.3 1168.2 967.5 C1170.1 969.6 1172.0 971.7 1173.9 973.9 C1175.7 976.0 1177.6 978.1 1179.5 980.3 C1181.4 982.5 1183.2 984.6 1185.1 986.8 C1186.9 989.0 1188.8 991.2 1190.6 993.3 C1192.5 995.5 1194.3 997.7 1196.1 999.9 C1197.9 1002.2 1199.7 1004.4 1201.5 1006.6 C1203.3 1008.8 1205.1 1011.1 1206.9 1013.3 C1208.7 1015.5 1210.5 1017.8 1212.2 1020.1 C1214.0 1022.3 1215.8 1024.6 1217.5 1026.9 C1219.3 1029.2 1221.0 1031.4 1222.7 1033.7 C1224.5 1036.0 1226.2 1038.3 1227.9 1040.7 C1229.6 1043.0 1231.3 1045.3 1233.0 1047.6 C1234.7 1049.9 1236.4 1052.3 1238.1 1054.6 C1239.8 1057.0 1241.4 1059.3 1243.1 1061.7 C1244.8 1064.1 1246.4 1066.4 1248.1 1068.8 C1249.7 1071.2 1251.4 1073.6 1253.0 1076.0 C1254.6 1078.4 1256.3 1080.8 1257.9 1083.2 C1259.5 1085.6 1261.1 1088.0 1262.7 1090.4 C1264.3 1092.9 1265.9 1095.3 1267.5 1097.7 C1269.1 1100.2 1270.7 1102.6 1272.2 1105.1 C1273.8 1107.5 1275.4 1110.0 1276.9 1112.5 C1278.5 1114.9 1280.0 1117.4 1281.6 1119.9 C1283.1 1122.4 1284.7 1124.9 1286.2 1127.4 C1287.7 1129.9 1289.3 1132.4 1290.8 1134.9 C1292.3 1137.4 1293.8 1139.9 1295.3 1142.4 C1296.8 1145.0 1298.3 1147.5 1299.8 1150.0 C1301.3 1152.6 1302.8 1155.1 1304.2 1157.7 C1305.7 1160.2 1307.2 1162.8 1308.7 1165.3 C1310.1 1167.9 1311.6 1170.5 1313.0 1173.0 C1314.5 1175.6 1315.9 1178.2 1317.4 1180.8 C1318.8 1183.4 1320.3 1186.0 1321.7 1188.6 C1323.1 1191.2 1324.5 1193.8 1326.0 1196.4 C1327.4 1199.0 1328.8 1201.6 1330.2 1204.2 C1331.6 1206.8 1333.0 1209.5 1334.4 1212.1 C1335.8 1214.7 1337.2 1217.4 1338.6 1220.0 C1340.0 1222.6 1341.3 1225.3 1342.7 1227.9 C1344.1 1230.6 1345.5 1233.2 1346.8 1235.9 C1348.2 1238.6 1349.6 1241.2 1350.9 1243.9 C1352.3 1246.6 1353.6 1249.3 1355.0 1251.9 C1356.3 1254.6 1358.3 1258.7 1359.0 1260.0 C1359.2 1261.8 1359.9 1267.1 1360.4 1270.7 C1360.8 1274.3 1361.3 1277.9 1361.7 1281.5 C1362.2 1285.1 1362.6 1288.7 1363.0 1292.3 C1363.4 1295.9 1363.9 1299.6 1364.3 1303.2 C1364.7 1306.8 1365.1 1310.4 1365.5 1314.1 C1365.9 1317.7 1366.3 1321.4 1366.6 1325.0 C1367.0 1328.7 1367.4 1332.3 1367.8 1336.0 C1368.1 1339.7 1368.5 1343.4 1368.9 1347.0 C1369.2 1350.7 1369.6 1354.4 1369.9 1358.1 C1370.3 1361.8 1370.6 1365.5 1370.9 1369.2 C1371.3 1372.9 1371.6 1376.6 1371.9 1380.3 C1372.2 1384.0 1372.6 1387.8 1372.9 1391.5 C1373.2 1395.2 1373.5 1399.0 1373.8 1402.7 C1374.1 1406.4 1374.4 1410.2 1374.7 1413.9 C1374.9 1417.7 1375.2 1421.4 1375.5 1425.2 C1375.8 1429.0 1376.1 1432.7 1376.3 1436.5 C1376.6 1440.3 1376.9 1444.0 1377.1 1447.8 C1377.4 1451.6 1377.6 1455.4 1377.9 1459.2 C1378.1 1463.0 1378.4 1466.8 1378.6 1470.6 C1378.8 1474.4 1379.1 1478.2 1379.3 1482.0 C1379.5 1485.8 1379.8 1489.6 1380.0 1493.4 C1380.2 1497.2 1380.4 1501.0 1380.6 1504.9 C1380.8 1508.7 1381.0 1512.5 1381.2 1516.4 C1381.5 1520.2 1381.7 1524.0 1381.8 1527.9 C1382.0 1531.7 1382.2 1535.6 1382.4 1539.4 C1382.6 1543.3 1382.8 1547.1 1383.0 1551.0 C1383.2 1554.8 1383.3 1558.7 1383.5 1562.5 C1383.7 1566.4 1383.9 1570.3 1384.0 1574.1 C1384.2 1578.0 1384.4 1581.9 1384.5 1585.8 C1384.7 1589.6 1384.9 1593.5 1385.0 1597.4 C1385.2 1601.3 1385.3 1605.2 1385.5 1609.0 C1385.6 1612.9 1385.8 1616.8 1385.9 1620.7 C1386.1 1624.6 1386.2 1628.5 1386.3 1632.4 C1386.5 1636.3 1386.6 1640.2 1386.8 1644.1 C1386.9 1648.0 1387.0 1651.9 1387.2 1655.8 C1387.3 1659.7 1387.4 1663.6 1387.6 1667.5 C1387.7 1671.4 1387.8 1675.3 1387.9 1679.3 C1388.1 1683.2 1388.2 1687.1 1388.3 1691.0 C1388.4 1694.9 1388.5 1698.8 1388.7 1702.8 C1388.8 1706.7 1388.9 1710.6 1389.0 1714.5 C1389.1 1718.4 1389.2 1722.4 1389.4 1726.3 C1389.5 1730.2 1389.6 1734.1 1389.7 1738.1 C1389.8 1742.0 1389.9 1745.9 1390.0 1749.9 C1390.1 1753.8 1390.2 1757.7 1390.4 1761.6 C1390.5 1765.6 1390.6 1769.5 1390.7 1773.4 C1390.8 1777.4 1390.9 1781.3 1391.0 1785.2 C1391.1 1789.2 1391.2 1793.1 1391.3 1797.0 C1391.4 1801.0 1391.5 1804.9 1391.6 1808.8 C1391.7 1812.8 1391.8 1816.7 1391.9 1820.6 C1392.0 1824.5 1392.2 1828.5 1392.3 1832.4 C1392.4 1836.3 1392.5 1840.3 1392.6 1844.2 C1392.7 1848.1 1392.8 1854.0 1392.9 1856.0" stroke="#7E2F8E"/>
<path d="M273.5 253.0 C273.5 260.8 273.4 284.6 273.4 300.0 C273.4 315.4 273.4 337.9 273.4 345.5 C273.6 347.3 273.8 353.2 274.5 356.5 C275.3 359.7 276.4 362.6 277.8 365.2 C279.2 367.8 281.0 370.1 283.0 372.2 C285.0 374.2 287.2 375.9 289.7 377.5 C292.1 379.1 294.8 380.5 297.5 381.8 C300.3 383.0 303.3 384.1 306.3 385.1 C309.3 386.1 312.4 387.0 315.6 387.9 C318.7 388.8 321.9 389.6 325.0 390.5 C328.2 391.4 331.3 392.3 334.4 393.3 C337.4 394.2 340.4 395.2 343.4 396.3 C346.4 397.3 349.3 398.5 352.2 399.6 C355.1 400.7 357.9 401.9 360.7 403.2 C363.5 404.4 366.3 405.6 369.0 406.9 C371.7 408.2 374.4 409.6 377.1 410.9 C379.8 412.3 382.4 413.7 385.0 415.1 C387.6 416.5 390.2 417.9 392.8 419.4 C395.4 420.8 397.9 422.3 400.5 423.8 C403.0 425.3 405.5 426.8 408.1 428.3 C410.6 429.8 413.1 431.3 415.6 432.8 C418.1 434.4 420.6 435.9 423.1 437.4 C425.5 439.0 428.0 440.5 430.5 442.1 C433.0 443.7 435.4 445.2 437.9 446.8 C440.3 448.3 442.8 449.9 445.2 451.5 C447.7 453.1 450.1 454.6 452.6 456.2 C455.0 457.8 457.5 459.4 459.9 461.0 C462.4 462.5 464.8 464.1 467.3 465.7 C469.7 467.3 472.2 468.8 474.6 470.4 C477.1 472.0 479.6 473.6 482.0 475.1 C484.5 476.7 486.9 478.3 489.4 479.8 C491.9 481.4 494.4 482.9 496.8 484.5 C499.3 486.0 501.8 487.5 504.3 489.1 C506.8 490.6 509.3 492.1 511.8 493.6 C514.4 495.1 516.9 496.6 519.4 498.1 C522.0 499.6 524.5 501.1 527.1 502.5 C529.7 504.0 532.2 505.4 534.8 506.9 C537.4 508.3 540.0 509.7 542.6 511.1 C545.3 512.5 547.9 513.9 550.6 515.3 C553.2 516.7 555.9 518.0 558.6 519.4 C561.3 520.7 564.0 522.0 566.7 523.3 C569.4 524.6 572.2 525.9 575.0 527.1 C577.7 528.4 580.5 529.6 583.4 530.8 C586.2 532.0 589.0 533.2 591.9 534.4 C594.7 535.6 597.6 536.7 600.5 537.8 C603.4 539.0 606.3 540.1 609.3 541.2 C612.2 542.2 615.2 543.3 618.1 544.4 C621.1 545.4 624.1 546.5 627.1 547.5 C630.0 548.6 633.0 549.6 636.1 550.6 C639.1 551.6 642.1 552.6 645.1 553.6 C648.1 554.6 651.2 555.6 654.2 556.6 C657.2 557.6 660.3 558.6 663.3 559.6 C666.3 560.6 669.4 561.6 672.4 562.6 C675.5 563.5 678.5 564.5 681.5 565.5 C684.6 566.5 687.6 567.5 690.6 568.5 C693.7 569.5 696.7 570.5 699.7 571.5 C702.7 572.5 705.7 573.6 708.7 574.6 C711.7 575.6 714.7 576.7 717.6 577.7 C720.6 578.8 723.6 579.9 726.5 580.9 C729.5 582.0 732.4 583.1 735.3 584.2 C738.3 585.3 741.2 586.4 744.1 587.5 C747.0 588.6 749.9 589.7 752.8 590.9 C755.7 592.0 758.6 593.1 761.5 594.3 C764.4 595.4 767.3 596.6 770.2 597.7 C773.0 598.9 775.9 600.0 778.8 601.2 C781.6 602.3 784.5 603.5 787.3 604.7 C790.2 605.8 793.1 607.0 795.9 608.2 C798.8 609.4 801.6 610.5 804.5 611.7 C807.3 612.9 810.2 614.1 813.0 615.3 C815.8 616.4 818.7 617.6 821.5 618.8 C824.4 620.0 827.2 621.2 830.1 622.3 C832.9 623.5 835.8 624.7 838.6 625.9 C841.5 627.0 844.3 628.2 847.2 629.4 C850.1 630.6 852.9 631.7 855.8 632.9 C858.6 634.0 861.5 635.2 864.4 636.3 C867.3 637.5 870.2 638.6 873.0 639.8 C875.9 640.9 878.8 642.0 881.7 643.2 C884.6 644.3 887.6 645.4 890.5 646.5 C893.4 647.6 896.3 648.7 899.3 649.8 C902.2 650.9 905.2 651.9 908.1 653.0 C911.1 654.1 914.1 655.1 917.1 656.1 C920.1 657.2 923.1 658.2 926.1 659.2 C929.1 660.2 932.2 661.2 935.2 662.2 C938.3 663.2 941.3 664.1 944.4 665.1 C947.5 666.0 950.6 666.9 953.7 667.8 C956.8 668.7 960.0 669.6 963.1 670.5 C966.3 671.4 969.5 672.2 972.6 673.1 C975.8 673.9 979.1 674.7 982.3 675.5 C985.5 676.3 988.8 677.0 992.1 677.8 C995.4 678.5 998.7 679.2 1002.0 679.9 C1005.3 680.6 1008.7 681.3 1012.1 681.9 C1015.5 682.6 1018.9 683.2 1022.3 683.8 C1025.7 684.4 1029.2 684.9 1032.7 685.5 C1036.2 686.0 1039.7 686.5 1043.3 687.0 C1046.8 687.5 1050.4 687.9 1054.0 688.4 C1057.6 688.8 1061.2 689.2 1064.9 689.5 C1068.6 689.9 1074.1 690.3 1076.0 690.5 C1077.0 691.5 1079.9 694.6 1081.9 696.6 C1083.9 698.6 1086.0 700.5 1088.0 702.5 C1090.1 704.4 1092.1 706.4 1094.2 708.3 C1096.3 710.2 1098.4 712.1 1100.6 713.9 C1102.7 715.8 1104.9 717.6 1107.1 719.4 C1109.3 721.2 1111.5 723.0 1113.7 724.8 C1115.9 726.6 1118.2 728.3 1120.4 730.1 C1122.7 731.8 1125.0 733.5 1127.3 735.2 C1129.6 736.9 1131.9 738.6 1134.2 740.3 C1136.6 741.9 1138.9 743.6 1141.3 745.2 C1143.7 746.8 1146.1 748.4 1148.5 750.0 C1150.9 751.6 1153.3 753.2 1155.7 754.8 C1158.1 756.4 1160.6 757.9 1163.0 759.5 C1165.5 761.0 1168.0 762.5 1170.4 764.1 C1172.9 765.6 1175.4 767.1 1177.9 768.6 C1180.4 770.1 1182.9 771.6 1185.5 773.0 C1188.0 774.5 1190.5 776.0 1193.1 777.4 C1195.6 778.9 1198.2 780.3 1200.7 781.8 C1203.3 783.2 1205.9 784.6 1208.5 786.0 C1211.0 787.5 1213.6 788.9 1216.2 790.3 C1218.8 791.7 1221.4 793.1 1224.0 794.5 C1226.6 795.9 1229.2 797.3 1231.9 798.6 C1234.5 800.0 1237.1 801.4 1239.7 802.8 C1242.4 804.1 1245.0 805.5 1247.6 806.9 C1250.3 808.2 1252.9 809.6 1255.6 810.9 C1258.3 812.2 1260.9 813.6 1263.6 814.9 C1266.3 816.2 1268.9 817.6 1271.6 818.9 C1274.3 820.2 1277.0 821.5 1279.7 822.8 C1282.4 824.1 1285.0 825.5 1287.7 826.8 C1290.4 828.1 1293.1 829.4 1295.9 830.6 C1298.6 831.9 1301.3 833.2 1304.0 834.5 C1306.7 835.8 1309.4 837.1 1312.2 838.3 C1314.9 839.6 1317.6 840.9 1320.3 842.2 C1323.1 843.4 1325.8 844.7 1328.5 846.0 C1331.3 847.2 1334.0 848.5 1336.8 849.7 C1339.5 851.0 1342.3 852.2 1345.0 853.5 C1347.8 854.7 1350.5 856.0 1353.3 857.2 C1356.0 858.5 1358.8 859.7 1361.5 861.0 C1364.3 862.2 1367.1 863.4 1369.8 864.7 C1372.6 865.9 1375.4 867.1 1378.1 868.4 C1380.9 869.6 1383.7 870.8 1386.4 872.1 C1389.2 873.3 1392.0 874.5 1394.8 875.7 C1397.5 877.0 1400.3 878.2 1403.1 879.4 C1405.9 880.6 1408.6 881.9 1411.4 883.1 C1414.2 884.3 1417.0 885.5 1419.8 886.7 C1422.5 888.0 1425.3 889.2 1428.1 890.4 C1430.9 891.6 1433.7 892.8 1436.4 894.1 C1439.2 895.3 1442.0 896.5 1444.8 897.7 C1447.5 899.0 1450.3 900.2 1453.1 901.4 C1455.9 902.6 1458.7 903.8 1461.4 905.1 C1464.2 906.3 1467.0 907.5 1469.8 908.7 C1472.5 910.0 1475.3 911.2 1478.1 912.4 C1480.8 913.7 1483.6 914.9 1486.4 916.1 C1489.2 917.3 1491.9 918.6 1494.7 919.8 C1497.5 921.0 1500.2 922.3 1503.0 923.5 C1505.7 924.8 1508.5 926.0 1511.3 927.2 C1514.0 928.5 1516.8 929.7 1519.6 930.9 C1522.3 932.2 1525.1 933.4 1527.8 934.7 C1530.6 935.9 1533.3 937.2 1536.1 938.4 C1538.8 939.7 1541.6 940.9 1544.3 942.2 C1547.1 943.4 1549.8 944.7 1552.6 945.9 C1555.3 947.2 1558.1 948.4 1560.8 949.7 C1563.5 951.0 1566.3 952.2 1569.0 953.5 C1571.7 954.8 1574.5 956.0 1577.2 957.3 C1579.9 958.6 1582.7 959.8 1585.4 961.1 C1588.1 962.4 1590.8 963.7 1593.6 964.9 C1596.3 966.2 1599.0 967.5 1601.7 968.8 C1604.4 970.1 1607.1 971.4 1609.9 972.6 C1612.6 973.9 1615.3 975.2 1618.0 976.5 C1620.7 977.8 1623.4 979.1 1626.1 980.4 C1628.8 981.7 1631.5 983.0 1634.2 984.3 C1636.9 985.6 1639.6 986.9 1642.3 988.2 C1645.0 989.5 1647.7 990.8 1650.4 992.1 C1653.1 993.4 1655.8 994.7 1658.5 996.0 C1661.2 997.3 1663.8 998.7 1666.5 1000.0 C1669.2 1001.3 1671.9 1002.6 1674.6 1003.9 C1677.3 1005.2 1680.0 1006.5 1682.7 1007.8 C1685.3 1009.2 1688.0 1010.5 1690.7 1011.8 C1693.4 1013.1 1696.1 1014.4 1698.8 1015.7 C1701.4 1017.1 1704.1 1018.4 1706.8 1019.7 C1709.5 1021.0 1712.2 1022.3 1714.9 1023.6 C1717.5 1025.0 1720.2 1026.3 1722.9 1027.6 C1725.6 1028.9 1728.3 1030.2 1730.9 1031.6 C1733.6 1032.9 1736.3 1034.2 1739.0 1035.5 C1741.7 1036.8 1744.3 1038.2 1747.0 1039.5 C1749.7 1040.8 1752.4 1042.1 1755.1 1043.4 C1757.7 1044.8 1760.4 1046.1 1763.1 1047.4 C1765.8 1048.7 1768.5 1050.0 1771.1 1051.4 C1773.8 1052.7 1776.5 1054.0 1779.2 1055.3 C1781.9 1056.6 1784.6 1057.9 1787.2 1059.3 C1789.9 1060.6 1792.6 1061.9 1795.3 1063.2 C1798.0 1064.5 1800.7 1065.8 1803.3 1067.2 C1806.0 1068.5 1808.7 1069.8 1811.4 1071.1 C1814.1 1072.4 1816.7 1073.8 1819.4 1075.1 C1822.1 1076.4 1824.8 1077.7 1827.4 1079.1 C1830.1 1080.4 1832.8 1081.7 1835.4 1083.1 C1838.1 1084.4 1840.8 1085.7 1843.4 1087.1 C1846.1 1088.4 1848.8 1089.7 1851.4 1091.1 C1854.1 1092.4 1856.8 1093.7 1859.4 1095.1 C1862.1 1096.4 1864.7 1097.8 1867.4 1099.1 C1870.0 1100.5 1872.7 1101.8 1875.3 1103.2 C1877.9 1104.6 1880.6 1105.9 1883.2 1107.3 C1885.9 1108.6 1888.5 1110.0 1891.1 1111.4 C1893.7 1112.8 1896.4 1114.1 1899.0 1115.5 C1901.6 1116.9 1904.2 1118.3 1906.8 1119.7 C1909.5 1121.0 1912.1 1122.4 1914.7 1123.8 C1917.3 1125.2 1919.9 1126.6 1922.5 1128.0 C1925.1 1129.4 1927.7 1130.8 1930.3 1132.2 C1932.9 1133.6 1935.5 1135.0 1938.1 1136.4 C1940.7 1137.8 1943.3 1139.2 1945.9 1140.6 C1948.5 1142.0 1951.1 1143.4 1953.7 1144.8 C1956.2 1146.3 1958.8 1147.7 1961.4 1149.1 C1964.0 1150.5 1966.6 1151.9 1969.2 1153.3 C1971.8 1154.7 1974.4 1156.1 1977.0 1157.5 C1979.6 1158.9 1982.2 1160.3 1984.8 1161.7 C1987.4 1163.1 1990.0 1164.5 1992.6 1165.9 C1995.2 1167.3 1997.8 1168.7 2000.5 1170.0 C2003.1 1171.4 2005.7 1172.8 2008.3 1174.2 C2010.9 1175.6 2013.5 1177.0 2016.2 1178.3 C2018.8 1179.7 2021.4 1181.1 2024.0 1182.5 C2026.7 1183.8 2029.3 1185.2 2031.9 1186.6 C2034.6 1187.9 2037.2 1189.3 2039.8 1190.7 C2042.5 1192.0 2045.1 1193.4 2047.8 1194.7 C2050.4 1196.1 2053.1 1197.4 2055.7 1198.8 C2058.4 1200.1 2061.0 1201.5 2063.7 1202.8 C2066.3 1204.2 2069.0 1205.5 2071.6 1206.9 C2074.3 1208.2 2077.0 1209.5 2079.6 1210.9 C2082.3 1212.2 2085.0 1213.5 2087.6 1214.9 C2090.3 1216.2 2093.0 1217.5 2095.6 1218.9 C2098.3 1220.2 2101.0 1221.5 2103.6 1222.9 C2106.3 1224.2 2109.0 1225.5 2111.6 1226.9 C2114.3 1228.2 2117.0 1229.5 2119.6 1230.9 C2122.3 1232.2 2124.9 1233.6 2127.6 1234.9 C2130.3 1236.2 2132.9 1237.6 2135.6 1238.9 C2138.2 1240.3 2140.8 1241.7 2143.5 1243.0 C2146.1 1244.4 2148.7 1245.8 2151.4 1247.1 C2154.0 1248.5 2156.6 1249.9 2159.2 1251.3 C2161.8 1252.7 2164.4 1254.1 2167.0 1255.5 C2169.6 1256.9 2172.2 1258.3 2174.8 1259.7 C2177.4 1261.1 2181.2 1263.3 2182.5 1264.0 C2183.5 1265.2 2186.4 1268.8 2188.4 1271.2 C2190.4 1273.7 2192.3 1276.1 2194.3 1278.5 C2196.3 1280.9 2198.2 1283.3 2200.2 1285.7 C2202.2 1288.2 2204.1 1290.6 2206.1 1293.0 C2208.1 1295.4 2210.0 1297.8 2212.0 1300.2 C2214.0 1302.7 2215.9 1305.1 2217.9 1307.5 C2219.9 1309.9 2221.8 1312.3 2223.8 1314.7 C2225.8 1317.2 2228.7 1320.8 2229.7 1322.0 C2230.2 1323.6 2231.6 1328.6 2232.5 1331.8 C2233.5 1335.1 2234.5 1338.4 2235.5 1341.6 C2236.5 1344.8 2237.5 1348.1 2238.5 1351.3 C2239.5 1354.5 2240.5 1357.7 2241.5 1360.9 C2242.6 1364.1 2243.6 1367.3 2244.7 1370.5 C2245.7 1373.7 2246.8 1376.8 2247.8 1380.0 C2248.9 1383.2 2250.0 1386.3 2251.0 1389.5 C2252.1 1392.6 2253.2 1395.8 2254.3 1398.9 C2255.4 1402.0 2256.5 1405.2 2257.6 1408.3 C2258.7 1411.4 2259.8 1414.6 2260.9 1417.7 C2262.0 1420.8 2263.1 1423.9 2264.2 1427.1 C2265.3 1430.2 2266.4 1433.3 2267.5 1436.4 C2268.6 1439.5 2269.7 1442.7 2270.9 1445.8 C2272.0 1448.9 2273.1 1452.0 2274.2 1455.1 C2275.3 1458.3 2276.9 1462.9 2277.5 1464.5 C2277.8 1466.2 2278.8 1471.3 2279.4 1474.7 C2280.0 1478.2 2280.6 1481.6 2281.3 1485.0 C2281.9 1488.5 2282.5 1491.9 2283.1 1495.3 C2283.7 1498.8 2284.3 1502.3 2284.8 1505.7 C2285.4 1509.2 2286.0 1512.7 2286.6 1516.1 C2287.1 1519.6 2287.7 1523.1 2288.2 1526.6 C2288.8 1530.1 2289.3 1533.6 2289.9 1537.1 C2290.4 1540.6 2291.0 1544.1 2291.5 1547.6 C2292.0 1551.1 2292.5 1554.7 2293.0 1558.2 C2293.6 1561.7 2294.1 1565.3 2294.6 1568.8 C2295.1 1572.4 2295.6 1575.9 2296.0 1579.5 C2296.5 1583.0 2297.0 1586.6 2297.5 1590.2 C2298.0 1593.8 2298.4 1597.3 2298.9 1600.9 C2299.4 1604.5 2299.8 1608.1 2300.3 1611.7 C2300.7 1615.3 2301.2 1618.9 2301.6 1622.5 C2302.0 1626.1 2302.5 1629.7 2302.9 1633.3 C2303.3 1636.9 2303.7 1640.6 2304.2 1644.2 C2304.6 1647.8 2305.0 1651.5 2305.4 1655.1 C2305.8 1658.7 2306.2 1662.4 2306.6 1666.0 C2307.0 1669.7 2307.4 1673.3 2307.8 1677.0 C2308.2 1680.7 2308.5 1684.3 2308.9 1688.0 C2309.3 1691.7 2309.7 1695.3 2310.0 1699.0 C2310.4 1702.7 2310.8 1706.4 2311.1 1710.1 C2311.5 1713.8 2311.8 1717.5 2312.2 1721.2 C2312.5 1724.9 2312.9 1728.6 2313.2 1732.3 C2313.5 1736.0 2313.9 1739.7 2314.2 1743.4 C2314.5 1747.1 2314.9 1750.8 2315.2 1754.6 C2315.5 1758.3 2315.8 1762.0 2316.1 1765.8 C2316.5 1769.5 2316.8 1773.2 2317.1 1777.0 C2317.4 1780.7 2317.7 1784.4 2318.0 1788.2 C2318.3 1791.9 2318.6 1795.7 2318.9 1799.4 C2319.2 1803.2 2319.4 1807.0 2319.7 1810.7 C2320.0 1814.5 2320.3 1818.2 2320.6 1822.0 C2320.9 1825.8 2321.1 1829.5 2321.4 1833.3 C2321.7 1837.1 2321.9 1840.9 2322.2 1844.7 C2322.5 1848.4 2322.9 1854.1 2323.0 1856.0" stroke="#77AC30"/>
</g>
<text transform="translate(270.50 1956.50) scale(0.9140 1)" font-size="70.70" fill="#1c1c1c" text-anchor="middle">0</text><text transform="translate(533.71 1956.50) scale(0.9140 1)" font-size="70.70" fill="#1c1c1c" text-anchor="middle">20</text><text transform="translate(796.92 1956.50) scale(0.9140 1)" font-size="70.70" fill="#1c1c1c" text-anchor="middle">40</text><text transform="translate(1060.14 1956.50) scale(0.9140 1)" font-size="70.70" fill="#1c1c1c" text-anchor="middle">60</text><text transform="translate(1323.35 1956.50) scale(0.9140 1)" font-size="70.70" fill="#1c1c1c" text-anchor="middle">80</text><text transform="translate(1586.56 1956.50) scale(0.9140 1)" font-size="70.70" fill="#1c1c1c" text-anchor="middle">100</text><text transform="translate(1849.77 1956.50) scale(0.9140 1)" font-size="70.70" fill="#1c1c1c" text-anchor="middle">120</text><text transform="translate(2112.99 1956.50) scale(0.9140 1)" font-size="70.70" fill="#1c1c1c" text-anchor="middle">140</text><text transform="translate(2376.20 1956.50) scale(0.9140 1)" font-size="70.70" fill="#1c1c1c" text-anchor="middle">160</text>
<text transform="translate(243.00 1748.40) scale(0.9080 1)" font-size="70.90" fill="#1c1c1c" text-anchor="end">3</text><text transform="translate(243.00 1477.45) scale(0.9080 1)" font-size="70.90" fill="#1c1c1c" text-anchor="end">3.2</text><text transform="translate(243.00 1206.50) scale(0.9080 1)" font-size="70.90" fill="#1c1c1c" text-anchor="end">3.4</text><text transform="translate(243.00 935.55) scale(0.9080 1)" font-size="70.90" fill="#1c1c1c" text-anchor="end">3.6</text><text transform="translate(243.00 664.60) scale(0.9080 1)" font-size="70.90" fill="#1c1c1c" text-anchor="end">3.8</text><text transform="translate(243.00 393.65) scale(0.9080 1)" font-size="70.90" fill="#1c1c1c" text-anchor="end">4</text><text transform="translate(243.00 122.70) scale(0.9080 1)" font-size="70.90" fill="#1c1c1c" text-anchor="end">4.2</text>
<text transform="translate(1320.85 2054.50) scale(0.9230 1)" font-size="77.00" fill="#1c1c1c" text-anchor="middle">Capacity (mAh/g)</text>
<text transform="translate(113.6 980.7) rotate(-90) scale(1.047 1)" font-size="72.1" fill="#1c1c1c" text-anchor="middle">Voltage (V)</text>
<rect x="1646" y="152.3" width="680.7" height="440.7" fill="#fff" stroke="#404040" stroke-width="3"/>
<line x1="1665" y1="203.6" x2="1860" y2="203.6" stroke="#0072BD" stroke-width="11.5"/><text transform="translate(1874.00 229.90) scale(0.9540 1)" font-size="60.90" fill="#000" text-anchor="start">50%LCO-Model</text><line x1="1665" y1="288.4" x2="1860" y2="288.4" stroke="#A2142F" stroke-width="11.5"/><text transform="translate(1874.00 314.70) scale(0.9540 1)" font-size="60.90" fill="#000" text-anchor="start">50%LMO-Model</text><line x1="1665" y1="373.2" x2="1860" y2="373.2" stroke="#EDB120" stroke-width="11.5"/><text transform="translate(1874.00 399.50) scale(0.9540 1)" font-size="60.90" fill="#000" text-anchor="start">50%NMC-Model</text><line x1="1665" y1="458.0" x2="1860" y2="458.0" stroke="#7E2F8E" stroke-width="11.5"/><text transform="translate(1874.00 484.30) scale(0.9540 1)" font-size="60.90" fill="#000" text-anchor="start">50%LFP-Model</text><line x1="1665" y1="542.8" x2="1860" y2="542.8" stroke="#77AC30" stroke-width="11.5"/><text transform="translate(1874.00 569.10) scale(0.9540 1)" font-size="60.90" fill="#000" text-anchor="start">50%NCA-Model</text>
<text transform="translate(1245 2217)" font-size="80" font-weight="bold" fill="#000" text-anchor="middle" style="font-family:'Liberation Serif','Times New Roman',serif"><tspan font-weight="normal">(</tspan>e<tspan font-weight="normal">)</tspan></text>
</svg>
</body></html>
